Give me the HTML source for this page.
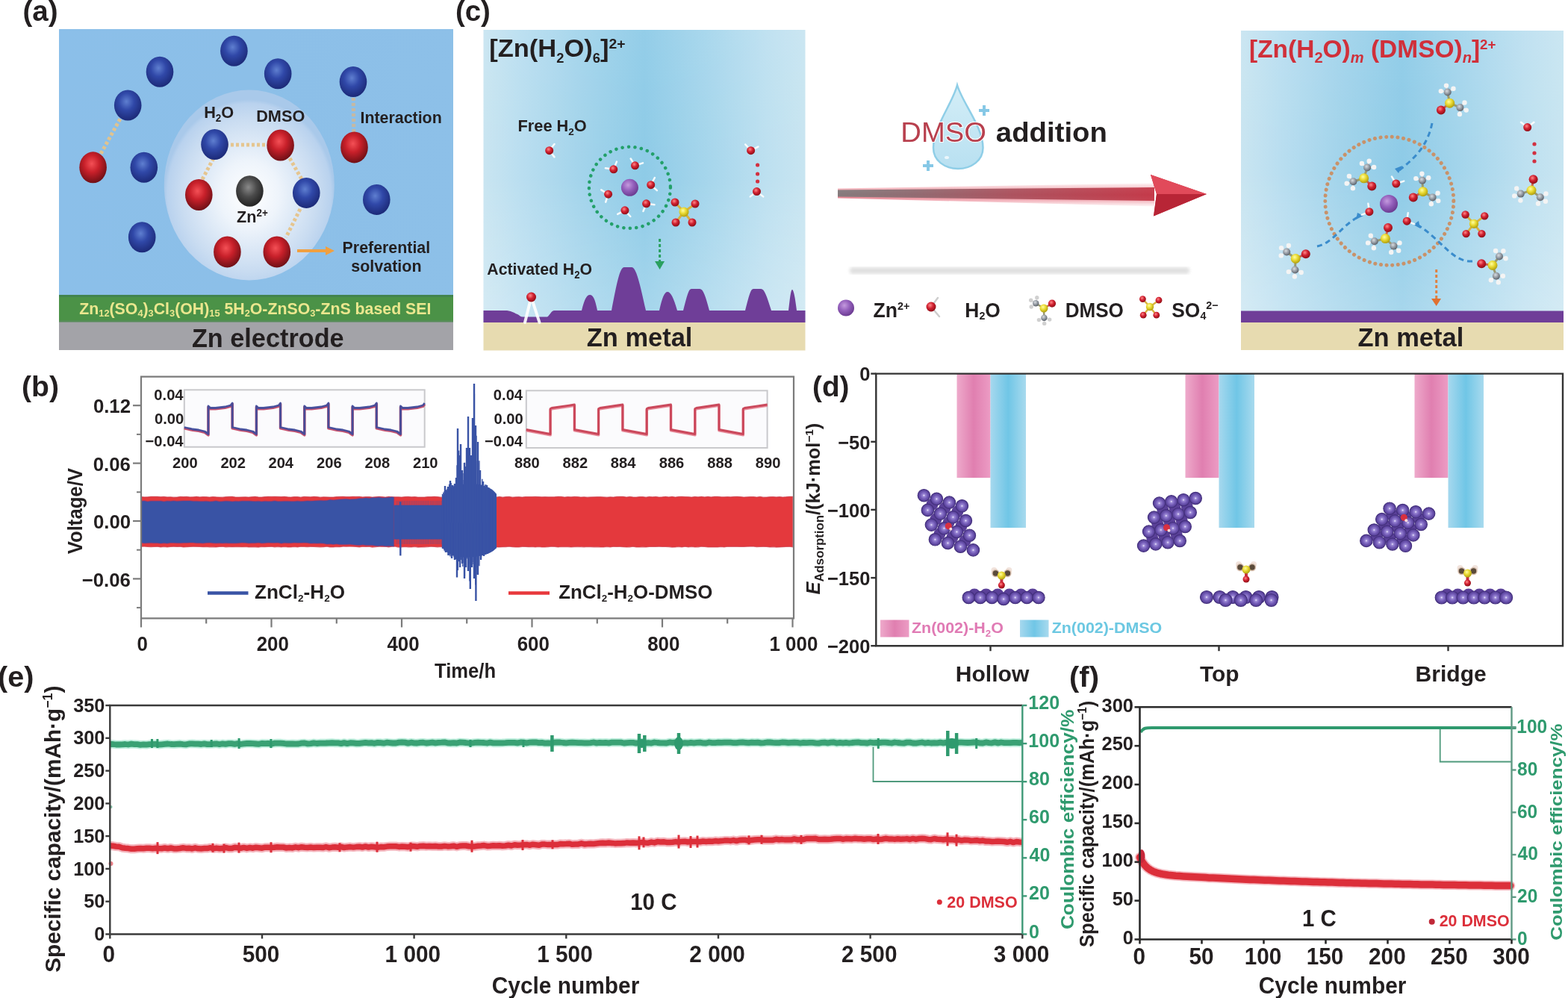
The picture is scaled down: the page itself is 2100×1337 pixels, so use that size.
<!DOCTYPE html>
<html><head><meta charset="utf-8"><title>Figure</title>
<style>html,body{margin:0;padding:0;background:#fff;} svg{display:block;} text{font-family:'Liberation Sans',Arial,sans-serif;font-weight:bold;}</style>
</head><body>
<svg width="2100" height="1337" viewBox="0 0 2100 1337">
<rect width="2100" height="1337" fill="#ffffff"/>

<defs>
 <radialGradient id="gBlue" cx="45%" cy="38%" r="62%">
  <stop offset="0" stop-color="#5f7fd0"/><stop offset="0.45" stop-color="#3048a8"/><stop offset="1" stop-color="#1c2a78"/></radialGradient>
 <radialGradient id="gRed" cx="45%" cy="38%" r="62%">
  <stop offset="0" stop-color="#f45056"/><stop offset="0.45" stop-color="#c8202a"/><stop offset="1" stop-color="#701016"/></radialGradient>
 <radialGradient id="gBlack" cx="45%" cy="38%" r="62%">
  <stop offset="0" stop-color="#8a8a8a"/><stop offset="0.5" stop-color="#4a4a4a"/><stop offset="1" stop-color="#222"/></radialGradient>
 <radialGradient id="gGlow" cx="50%" cy="55%" r="50%">
  <stop offset="0" stop-color="#ffffff"/><stop offset="0.35" stop-color="#eef4fb"/><stop offset="0.8" stop-color="#c9dcf1"/><stop offset="0.96" stop-color="#b9d2ee"/><stop offset="1" stop-color="#a9c9ea"/></radialGradient>
 <linearGradient id="gA" x1="0" x2="1" y1="0" y2="0">
  <stop offset="0" stop-color="#8bbfe9"/><stop offset="0.5" stop-color="#8cbfe8"/><stop offset="1" stop-color="#8dc0e8"/></linearGradient>
 <linearGradient id="gC" x1="0" x2="1" y1="0" y2="0">
  <stop offset="0" stop-color="#c9e5f1"/><stop offset="0.12" stop-color="#b9def0"/><stop offset="0.3" stop-color="#a3d4eb"/><stop offset="0.5" stop-color="#8ecbe7"/><stop offset="0.7" stop-color="#a6d6ec"/><stop offset="0.88" stop-color="#bde0f0"/><stop offset="1" stop-color="#c8e5f1"/></linearGradient>
 <linearGradient id="gCv" x1="0" x2="0" y1="0" y2="1">
  <stop offset="0" stop-color="#ffffff" stop-opacity="0.05"/><stop offset="0.5" stop-color="#ffffff" stop-opacity="0.0"/><stop offset="1" stop-color="#ffffff" stop-opacity="0.22"/></linearGradient>
 <radialGradient id="gPur" cx="40%" cy="35%" r="65%">
  <stop offset="0" stop-color="#c49ade"/><stop offset="0.5" stop-color="#9460bc"/><stop offset="1" stop-color="#6c3c92"/></radialGradient>
 <radialGradient id="gZn" cx="50%" cy="50%" r="55%">
  <stop offset="0" stop-color="#f4f0ff"/><stop offset="0.18" stop-color="#9b88d6"/><stop offset="0.55" stop-color="#7058b4"/><stop offset="1" stop-color="#4a3488"/></radialGradient>
 <radialGradient id="gOr" cx="40%" cy="35%" r="65%">
  <stop offset="0" stop-color="#ff8888"/><stop offset="0.5" stop-color="#d02030"/><stop offset="1" stop-color="#901018"/></radialGradient>
 <radialGradient id="gS" cx="40%" cy="35%" r="65%">
  <stop offset="0" stop-color="#ffffa0"/><stop offset="0.5" stop-color="#e8d830"/><stop offset="1" stop-color="#b0a010"/></radialGradient>
 <radialGradient id="gC6" cx="40%" cy="35%" r="65%">
  <stop offset="0" stop-color="#d8dce0"/><stop offset="0.5" stop-color="#9aa0a8"/><stop offset="1" stop-color="#5c636c"/></radialGradient>
 <linearGradient id="gPink" x1="0" x2="1">
  <stop offset="0" stop-color="#eeaacb"/><stop offset="0.5" stop-color="#e07fb0"/><stop offset="1" stop-color="#ec9cc4"/></linearGradient>
 <linearGradient id="gCyan" x1="0" x2="1">
  <stop offset="0" stop-color="#a6d8ee"/><stop offset="0.5" stop-color="#70c6e6"/><stop offset="1" stop-color="#a8daee"/></linearGradient>
 <linearGradient id="gArrow" x1="0" x2="1">
  <stop offset="0" stop-color="#7c7c7c"/><stop offset="0.25" stop-color="#8a6a70"/><stop offset="0.55" stop-color="#a8505c"/><stop offset="1" stop-color="#c23444"/></linearGradient>
 <linearGradient id="gShaftV" x1="0" x2="0" y1="0" y2="1">
  <stop offset="0" stop-color="#f6c4ca" stop-opacity="0.2"/><stop offset="0.3" stop-color="#f0a6b0"/><stop offset="0.5" stop-color="#d86a78"/><stop offset="0.7" stop-color="#f0a6b0"/><stop offset="1" stop-color="#f6c4ca" stop-opacity="0.2"/></linearGradient>
 <linearGradient id="gArrowV" x1="0" x2="0" y1="0" y2="1">
  <stop offset="0" stop-color="#ffffff" stop-opacity="0.0"/><stop offset="0.35" stop-color="#ffffff" stop-opacity="0.35"/><stop offset="1" stop-color="#ffffff" stop-opacity="0"/></linearGradient>
 <linearGradient id="gDrop" x1="0" x2="0" y1="0" y2="1">
  <stop offset="0" stop-color="#d4eef7"/><stop offset="1" stop-color="#b8e0f1"/></linearGradient>
 <filter id="blur2"><feGaussianBlur stdDeviation="2"/></filter>
 <filter id="blur1"><feGaussianBlur stdDeviation="0.8"/></filter>
 <filter id="blur4"><feGaussianBlur stdDeviation="4"/></filter>
</defs>

<g id="pa">
<rect x="79" y="39" width="528" height="357" fill="url(#gA)"/>
<ellipse cx="333.8" cy="248" rx="114" ry="127.5" fill="url(#gGlow)"/>
<line x1="171" y1="141" x2="125" y2="224" stroke="#e6c48a" stroke-width="5" stroke-dasharray="4 3" opacity="0.95"/>
<line x1="473" y1="110" x2="474" y2="197" stroke="#c9b9a0" stroke-width="5" stroke-dasharray="4 3" opacity="0.95"/>
<line x1="288" y1="194" x2="376" y2="194" stroke="#e6c48a" stroke-width="5" stroke-dasharray="4 3" opacity="0.95"/>
<line x1="286" y1="212" x2="270" y2="242" stroke="#e6c48a" stroke-width="5" stroke-dasharray="4 3" opacity="0.95"/>
<line x1="388" y1="212" x2="404" y2="240" stroke="#e6c48a" stroke-width="5" stroke-dasharray="4 3" opacity="0.95"/>
<line x1="402" y1="280" x2="383" y2="318" stroke="#e6c48a" stroke-width="5" stroke-dasharray="4 3" opacity="0.95"/>
<line x1="398" y1="336" x2="438" y2="336" stroke="#f0a040" stroke-width="4"/>
<path d="M436 330 L448 336 L436 342 Z" fill="#f0a040"/>
<ellipse cx="313.4" cy="68.2" rx="18.3" ry="20.5" fill="url(#gBlue)"/>
<ellipse cx="214" cy="96.2" rx="18.3" ry="20.5" fill="url(#gBlue)"/>
<ellipse cx="372.2" cy="98.7" rx="18.3" ry="20.5" fill="url(#gBlue)"/>
<ellipse cx="473" cy="109.5" rx="18.3" ry="20.5" fill="url(#gBlue)"/>
<ellipse cx="171.2" cy="141" rx="18.3" ry="20.5" fill="url(#gBlue)"/>
<ellipse cx="287.5" cy="193.5" rx="18.3" ry="20.5" fill="url(#gBlue)"/>
<ellipse cx="192.8" cy="224.3" rx="18.3" ry="20.5" fill="url(#gBlue)"/>
<ellipse cx="410.3" cy="258.4" rx="18.3" ry="20.5" fill="url(#gBlue)"/>
<ellipse cx="504.3" cy="267.4" rx="18.3" ry="20.5" fill="url(#gBlue)"/>
<ellipse cx="190.2" cy="317.7" rx="18.3" ry="20.5" fill="url(#gBlue)"/>
<ellipse cx="124.6" cy="224.3" rx="18.3" ry="21" fill="url(#gRed)"/>
<ellipse cx="375.6" cy="194.5" rx="18.3" ry="21" fill="url(#gRed)"/>
<ellipse cx="474.5" cy="197.4" rx="18.3" ry="21" fill="url(#gRed)"/>
<ellipse cx="266.3" cy="261" rx="18.3" ry="21" fill="url(#gRed)"/>
<ellipse cx="304.4" cy="337.4" rx="18.3" ry="21" fill="url(#gRed)"/>
<ellipse cx="370.8" cy="337.4" rx="18.3" ry="21" fill="url(#gRed)"/>
<ellipse cx="334.4" cy="256" rx="18.3" ry="20.8" fill="url(#gBlack)"/>
<text x="273.15" y="158.00" textLength="40.06" lengthAdjust="spacingAndGlyphs" fill="#231f20"><tspan font-size="22.3">H</tspan><tspan font-size="13.83" dy="4.91">2</tspan><tspan font-size="22.3" dy="-4.91">O</tspan></text>
<text x="343.15" y="163.30" textLength="65.17" lengthAdjust="spacingAndGlyphs" fill="#231f20"><tspan font-size="22.3">DMSO</tspan></text>
<text x="482.47" y="164.60" textLength="109.26" lengthAdjust="spacingAndGlyphs" fill="#231f20"><tspan font-size="22.3">Interaction</tspan></text>
<text x="317.06" y="298.00" textLength="41.69" lengthAdjust="spacingAndGlyphs" fill="#231f20"><tspan font-size="22.3">Zn</tspan><tspan font-size="13.83" dy="-8.03">2+</tspan></text>
<text x="458.57" y="338.70" textLength="117.64" lengthAdjust="spacingAndGlyphs" fill="#231f20"><tspan font-size="22.3">Preferential</tspan></text>
<text x="470.24" y="364.30" textLength="94.39" lengthAdjust="spacingAndGlyphs" fill="#231f20"><tspan font-size="22.3">solvation</tspan></text>
<rect x="79" y="395" width="528" height="37" fill="#4b9247"/>
<rect x="79" y="395" width="528" height="3" fill="#3f7f52" opacity="0.7"/>
<rect x="79" y="431" width="528" height="38" fill="#a3a3a8"/>
<rect x="79" y="429" width="528" height="3" fill="#5e8a62" opacity="0.6"/>
<text x="106.27" y="421.10" textLength="471.16" lengthAdjust="spacingAndGlyphs" fill="#ebe78e"><tspan font-size="21.5">Zn</tspan><tspan font-size="12.9" dy="3.01">12</tspan><tspan font-size="21.5" dy="-3.01">(SO</tspan><tspan font-size="12.9" dy="3.01">4</tspan><tspan font-size="21.5" dy="-3.01">)</tspan><tspan font-size="12.9" dy="3.01">3</tspan><tspan font-size="21.5" dy="-3.01">Cl</tspan><tspan font-size="12.9" dy="3.01">3</tspan><tspan font-size="21.5" dy="-3.01">(OH)</tspan><tspan font-size="12.9" dy="3.01">15</tspan><tspan font-size="21.5" dy="-3.01"> 5H</tspan><tspan font-size="12.9" dy="3.01">2</tspan><tspan font-size="21.5" dy="-3.01">O-ZnSO</tspan><tspan font-size="12.9" dy="3.01">3</tspan><tspan font-size="21.5" dy="-3.01">-ZnS based SEI</tspan></text>
<text x="256.88" y="464.60" textLength="203.79" lengthAdjust="spacingAndGlyphs" fill="#231f20"><tspan font-size="35.8">Zn electrode</tspan></text>
</g>
<g id="pc">
<rect x="647.5" y="40" width="431" height="392" fill="url(#gC)"/>
<rect x="647.5" y="40" width="431" height="392" fill="url(#gCv)"/>
<text x="655.16" y="76.40" textLength="182.32" lengthAdjust="spacingAndGlyphs" fill="#231f20"><tspan font-size="34">[Zn(H</tspan><tspan font-size="18.02" dy="7.14">2</tspan><tspan font-size="34" dy="-7.14">O)</tspan><tspan font-size="18.02" dy="7.14">6</tspan><tspan font-size="34" dy="-7.14">]</tspan><tspan font-size="19.04" dy="-11.22">2+</tspan></text>
<text x="693.54" y="176.20" textLength="92.27" lengthAdjust="spacingAndGlyphs" fill="#231f20"><tspan font-size="22">Free H</tspan><tspan font-size="13.64" dy="4.84">2</tspan><tspan font-size="22" dy="-4.84">O</tspan></text>
<text x="652.37" y="367.70" textLength="140.62" lengthAdjust="spacingAndGlyphs" fill="#231f20"><tspan font-size="22.5">Activated H</tspan><tspan font-size="13.95" dy="4.95">2</tspan><tspan font-size="22.5" dy="-4.95">O</tspan></text>
<line x1="735.7" y1="201.7" x2="742.4722762285822" y2="193.03188171032605" stroke="#ffffff" stroke-width="2.5" stroke-linecap="round" opacity="0.9"/><line x1="735.7" y1="201.7" x2="742.4722762285822" y2="210.36811828967393" stroke="#ffffff" stroke-width="2.5" stroke-linecap="round" opacity="0.9"/><circle cx="735.7" cy="201.7" r="5.5" fill="url(#gOr)"/>
<circle cx="843.4" cy="251.3" r="54.5" fill="none" stroke="#23a06a" stroke-width="4.5" stroke-dasharray="0.1 8.4" stroke-linecap="round"/>
<circle cx="843.4" cy="251.3" r="11.5" fill="url(#gPur)"/>
<line x1="821.8" y1="226.8" x2="810.9070512438427" y2="225.26909588943928" stroke="#ffffff" stroke-width="2.5" stroke-linecap="round" opacity="0.9"/><line x1="821.8" y1="226.8" x2="825.920672527575" y2="216.60097759976534" stroke="#ffffff" stroke-width="2.5" stroke-linecap="round" opacity="0.9"/><circle cx="821.8" cy="226.8" r="5.5" fill="url(#gOr)"/>
<line x1="850.5" y1="221.8" x2="844.6708880934348" y2="212.47147094227932" stroke="#ffffff" stroke-width="2.5" stroke-linecap="round" opacity="0.9"/><line x1="850.5" y1="221.8" x2="860.9616216792467" y2="218.4008130618756" stroke="#ffffff" stroke-width="2.5" stroke-linecap="round" opacity="0.9"/><circle cx="850.5" cy="221.8" r="5.5" fill="url(#gOr)"/>
<line x1="871.7" y1="247.7" x2="876.8641871906449" y2="237.9875764785518" stroke="#ffffff" stroke-width="2.5" stroke-linecap="round" opacity="0.9"/><line x1="871.7" y1="247.7" x2="879.8745930802514" y2="255.06043666994742" stroke="#ffffff" stroke-width="2.5" stroke-linecap="round" opacity="0.9"/><circle cx="871.7" cy="247.7" r="5.5" fill="url(#gOr)"/>
<line x1="814.6" y1="260.2" x2="811.2008130618756" y2="270.66162167924665" stroke="#ffffff" stroke-width="2.5" stroke-linecap="round" opacity="0.9"/><line x1="814.6" y1="260.2" x2="805.2714709422794" y2="254.37088809343473" stroke="#ffffff" stroke-width="2.5" stroke-linecap="round" opacity="0.9"/><circle cx="814.6" cy="260.2" r="5.5" fill="url(#gOr)"/>
<line x1="865.6" y1="272.8" x2="876.4929487561573" y2="274.3309041105607" stroke="#ffffff" stroke-width="2.5" stroke-linecap="round" opacity="0.9"/><line x1="865.6" y1="272.8" x2="861.479327472425" y2="282.99902240023465" stroke="#ffffff" stroke-width="2.5" stroke-linecap="round" opacity="0.9"/><circle cx="865.6" cy="272.8" r="5.5" fill="url(#gOr)"/>
<line x1="836.9" y1="281.8" x2="844.2604366699475" y2="289.97459308025134" stroke="#ffffff" stroke-width="2.5" stroke-linecap="round" opacity="0.9"/><line x1="836.9" y1="281.8" x2="827.1875764785518" y2="286.9641871906448" stroke="#ffffff" stroke-width="2.5" stroke-linecap="round" opacity="0.9"/><circle cx="836.9" cy="281.8" r="5.5" fill="url(#gOr)"/>
<line x1="916" y1="284" x2="904.0" y2="271.0" stroke="#d8b040" stroke-width="3.0"/><line x1="916" y1="284" x2="931.0" y2="273.0" stroke="#d8b040" stroke-width="3.0"/><line x1="916" y1="284" x2="905.0" y2="298.0" stroke="#d8b040" stroke-width="3.0"/><line x1="916" y1="284" x2="927.0" y2="298.0" stroke="#d8b040" stroke-width="3.0"/><circle cx="916" cy="284" r="6.5" fill="url(#gS)"/><circle cx="904.0" cy="271.0" r="5.5" fill="url(#gOr)"/><circle cx="931.0" cy="273.0" r="5.5" fill="url(#gOr)"/><circle cx="905.0" cy="298.0" r="5.5" fill="url(#gOr)"/><circle cx="927.0" cy="298.0" r="5.5" fill="url(#gOr)"/>
<line x1="1005.6" y1="201.7" x2="998.2395633300525" y2="193.52540691974866" stroke="#ffffff" stroke-width="2.5" stroke-linecap="round" opacity="0.9"/><line x1="1005.6" y1="201.7" x2="1015.3124235214482" y2="196.53581280935518" stroke="#ffffff" stroke-width="2.5" stroke-linecap="round" opacity="0.9"/><circle cx="1005.6" cy="201.7" r="5.5" fill="url(#gOr)"/>
<circle cx="1014.6" cy="221" r="2.6" fill="#d23040"/>
<circle cx="1014.6" cy="233" r="2.6" fill="#d23040"/>
<circle cx="1014.6" cy="243" r="2.6" fill="#d23040"/>
<line x1="1013.5" y1="256.6" x2="1022.1681182896739" y2="263.3722762285823" stroke="#ffffff" stroke-width="2.5" stroke-linecap="round" opacity="0.9"/><line x1="1013.5" y1="256.6" x2="1004.831881710326" y2="263.3722762285823" stroke="#ffffff" stroke-width="2.5" stroke-linecap="round" opacity="0.9"/><circle cx="1013.5" cy="256.6" r="5.5" fill="url(#gOr)"/>
<line x1="883.6" y1="320" x2="883.6" y2="352" stroke="#2aa060" stroke-width="3" stroke-dasharray="4 3"/>
<path d="M877 350 L890 350 L883.6 361 Z" fill="#2aa060"/>
<path d="M647.5 416 L679 416 C686 417 690 420 694 421.5 C696 423 697 424.5 700 424.5 L733 424.5 C736 423 738 416.5 742 416 L779 416 C783 400 786 395 790 395 C794 395 797 400 800 416 L819 416 C826 380 830 358 836 358 L846 358 C852 358 857 380 865 416 L883 416 C887 398 890 391 894 391 C898 391 902 398 907 416 L915 416 C920 397 922 387 926 387 L937 387 C942 387 945 397 950 416 L998 416 C1003 397 1005 387 1009 387 L1019 387 C1024 387 1027 397 1033 416 L1056 416 C1058 400 1059 388 1061 388 C1063 388 1065 400 1067 416 L1078.5 416 L1078.5 432 L647.5 432 Z" fill="#6f3e98"/>
<rect x="647.5" y="432" width="431" height="37.5" fill="#e7dbb0"/>
<line x1="711.5" y1="398" x2="703" y2="432" stroke="#ffffff" stroke-width="4" stroke-linecap="round" opacity="0.9"/><line x1="711.5" y1="398" x2="722.5" y2="432" stroke="#ffffff" stroke-width="4" stroke-linecap="round" opacity="0.9"/>
<circle cx="711.5" cy="398" r="6.5" fill="url(#gOr)"/>
<text x="785.77" y="464.40" textLength="141.67" lengthAdjust="spacingAndGlyphs" fill="#231f20"><tspan font-size="34.9">Zn metal</tspan></text>
<path d="M1282 114 C1289 138 1316.5 170 1316.5 198 C1316.5 215 1301 226 1283 226 C1265 226 1250 215 1250 198 C1250 170 1276 138 1282 114 Z" fill="url(#gDrop)" stroke="#8fcee7" stroke-width="2.5"/>
<path d="M1311 148 h14 M1318 141 v14 M1236 222 h14 M1243 215 v14" stroke="#86c8e6" stroke-width="4"/>
<ellipse cx="1268" cy="211" rx="3" ry="2" fill="#ffffff" opacity="0.7"/>
<text x="1206.37" y="190.20" textLength="114.46" lengthAdjust="spacingAndGlyphs" fill="#b8404e" style="paint-order:stroke;stroke:#ffffff;stroke-width:2;font-weight:normal"><tspan font-size="36">DMSO</tspan></text>
<text x="1333.88" y="190.20" textLength="149.00" lengthAdjust="spacingAndGlyphs" fill="#231f20"><tspan font-size="37">addition</tspan></text>
<rect x="1138" y="358" width="455" height="9" rx="4" fill="#d8d8d8" filter="url(#blur2)" opacity="0.8"/>
<path d="M1122 252.5 L1546 245.5 L1546 276.5 L1122 265.5 Z" fill="url(#gShaftV)"/>
<path d="M1122 254.5 L1546 251 L1546 269 L1122 263.5 Z" fill="url(#gArrow)" opacity="0.9"/>
<path d="M1541 234 L1616 260 L1545 289.5 L1549 260 Z" fill="#cf3042"/>
<path d="M1541 234 L1616 260 L1549 260 Z" fill="#e14a5a"/>
<path d="M1549 260 L1616 260 L1545 289.5 Z" fill="#b82536"/>
<circle cx="1133" cy="412.5" r="11" fill="url(#gPur)"/>
<text x="1169.51" y="424.60" textLength="48.87" lengthAdjust="spacingAndGlyphs" fill="#231f20"><tspan font-size="26.9">Zn</tspan><tspan font-size="14.53" dy="-9.15">2+</tspan></text>
<line x1="1247" y1="411" x2="1256" y2="399" stroke="#c8c8c8" stroke-width="2.5" stroke-linecap="round" opacity="0.9"/><line x1="1247" y1="411" x2="1258" y2="424" stroke="#c8c8c8" stroke-width="2.5" stroke-linecap="round" opacity="0.9"/><circle cx="1247" cy="411" r="6.5" fill="url(#gOr)"/>
<text x="1292.34" y="424.60" textLength="47.47" lengthAdjust="spacingAndGlyphs" fill="#231f20"><tspan font-size="26.9">H</tspan><tspan font-size="14.53" dy="3.77">2</tspan><tspan font-size="26.9" dy="-3.77">O</tspan></text>
<line x1="1398.0" y1="413.0" x2="1398.4" y2="425.7" stroke="#9a9a70" stroke-width="2.5"/><line x1="1398.4" y1="425.7" x2="1405.7" y2="428.1" stroke="#e8e8e8" stroke-width="1.7"/><circle cx="1405.7" cy="428.1" r="2.7" fill="#d0d0d0"/><line x1="1398.4" y1="425.7" x2="1398.7" y2="433.4" stroke="#e8e8e8" stroke-width="1.7"/><circle cx="1398.7" cy="433.4" r="2.7" fill="#d0d0d0"/><line x1="1398.4" y1="425.7" x2="1391.4" y2="428.6" stroke="#e8e8e8" stroke-width="1.7"/><circle cx="1391.4" cy="428.6" r="2.7" fill="#d0d0d0"/><circle cx="1398.4" cy="425.7" r="4.2" fill="url(#gC6)"/><line x1="1398.0" y1="413.0" x2="1387.2" y2="406.2" stroke="#9a9a70" stroke-width="2.5"/><line x1="1387.2" y1="406.2" x2="1381.2" y2="411.0" stroke="#e8e8e8" stroke-width="1.7"/><circle cx="1381.2" cy="411.0" r="2.7" fill="#d0d0d0"/><line x1="1387.2" y1="406.2" x2="1380.7" y2="402.2" stroke="#e8e8e8" stroke-width="1.7"/><circle cx="1380.7" cy="402.2" r="2.7" fill="#d0d0d0"/><line x1="1387.2" y1="406.2" x2="1388.8" y2="398.8" stroke="#e8e8e8" stroke-width="1.7"/><circle cx="1388.8" cy="398.8" r="2.7" fill="#d0d0d0"/><circle cx="1387.2" cy="406.2" r="4.2" fill="url(#gC6)"/><line x1="1398.0" y1="413.0" x2="1409.0" y2="406.6" stroke="#c86050" stroke-width="2.5"/><circle cx="1398" cy="413" r="5.5" fill="url(#gS)"/><circle cx="1409.0" cy="406.6" r="5.1" fill="url(#gOr)"/>
<text x="1426.66" y="424.60" textLength="78.24" lengthAdjust="spacingAndGlyphs" fill="#231f20"><tspan font-size="26.9">DMSO</tspan></text>
<line x1="1540" y1="411" x2="1530.4" y2="400.6" stroke="#d8b040" stroke-width="2.4000000000000004"/><line x1="1540" y1="411" x2="1552.0" y2="402.2" stroke="#d8b040" stroke-width="2.4000000000000004"/><line x1="1540" y1="411" x2="1531.2" y2="422.2" stroke="#d8b040" stroke-width="2.4000000000000004"/><line x1="1540" y1="411" x2="1548.8" y2="422.2" stroke="#d8b040" stroke-width="2.4000000000000004"/><circle cx="1540" cy="411" r="5.2" fill="url(#gS)"/><circle cx="1530.4" cy="400.6" r="4.4" fill="url(#gOr)"/><circle cx="1552.0" cy="402.2" r="4.4" fill="url(#gOr)"/><circle cx="1531.2" cy="422.2" r="4.4" fill="url(#gOr)"/><circle cx="1548.8" cy="422.2" r="4.4" fill="url(#gOr)"/>
<text x="1569.24" y="424.60" textLength="62.35" lengthAdjust="spacingAndGlyphs" fill="#231f20"><tspan font-size="26.9">SO</tspan><tspan font-size="14.53" dy="3.77">4</tspan><tspan font-size="14.53" dy="-13.99">2−</tspan></text>
<rect x="1662" y="41" width="432" height="376" fill="url(#gC)"/>
<rect x="1662" y="41" width="432" height="376" fill="url(#gCv)"/>
<text x="1673.02" y="76.80" textLength="330.44" lengthAdjust="spacingAndGlyphs" fill="#d0303a"><tspan font-size="34">[Zn(H</tspan><tspan font-size="20.4" dy="7.14">2</tspan><tspan font-size="34" dy="-7.14">O)</tspan><tspan font-size="20.4" dy="7.14" font-style="italic">m</tspan><tspan font-size="34" dy="-7.14"> (DMSO)</tspan><tspan font-size="20.4" dy="7.14" font-style="italic">n</tspan><tspan font-size="34" dy="-7.14">]</tspan><tspan font-size="19.04" dy="-11.22">2+</tspan></text>
<circle cx="1860.8" cy="269.3" r="86" fill="none" stroke="#c8926a" stroke-width="5" stroke-dasharray="0.1 7.6" stroke-linecap="round"/>
<path d="M1918 165 C1912 195 1895 212 1874 228" fill="none" stroke="#3a8ccc" stroke-width="3" stroke-dasharray="7 5"/>
<path d="M1764 330 C1785 326 1797 302 1820 290" fill="none" stroke="#3a8ccc" stroke-width="3" stroke-dasharray="7 5"/>
<path d="M1972 350 C1945 352 1930 320 1898 301" fill="none" stroke="#3a8ccc" stroke-width="3" stroke-dasharray="7 5"/>
<path d="M1868 226 L1878 222 L1873 232 Z" fill="#3a8ccc"/><path d="M1818 285 L1826 289 L1816 294 Z" fill="#3a8ccc"/><path d="M1900 296 L1893 301 L1902 306 Z" fill="#3a8ccc"/>
<circle cx="1860" cy="273" r="12" fill="url(#gPur)"/>
<line x1="1941.6" y1="138.2" x2="1938.7" y2="123.5" stroke="#9a9a70" stroke-width="3.0"/><line x1="1938.7" y1="123.5" x2="1929.8" y2="122.1" stroke="#e8e8e8" stroke-width="2.0"/><circle cx="1929.8" cy="122.1" r="3.2" fill="#f4f4f4"/><line x1="1938.7" y1="123.5" x2="1937.0" y2="114.6" stroke="#e8e8e8" stroke-width="2.0"/><circle cx="1937.0" cy="114.6" r="3.2" fill="#f4f4f4"/><line x1="1938.7" y1="123.5" x2="1946.5" y2="118.8" stroke="#e8e8e8" stroke-width="2.0"/><circle cx="1946.5" cy="118.8" r="3.2" fill="#f4f4f4"/><circle cx="1938.7" cy="123.5" r="5.0" fill="url(#gC6)"/><line x1="1941.6" y1="138.2" x2="1955.4" y2="144.1" stroke="#9a9a70" stroke-width="3.0"/><line x1="1955.4" y1="144.1" x2="1961.5" y2="137.5" stroke="#e8e8e8" stroke-width="2.0"/><circle cx="1961.5" cy="137.5" r="3.2" fill="#f4f4f4"/><line x1="1955.4" y1="144.1" x2="1963.7" y2="147.6" stroke="#e8e8e8" stroke-width="2.0"/><circle cx="1963.7" cy="147.6" r="3.2" fill="#f4f4f4"/><line x1="1955.4" y1="144.1" x2="1954.9" y2="153.0" stroke="#e8e8e8" stroke-width="2.0"/><circle cx="1954.9" cy="153.0" r="3.2" fill="#f4f4f4"/><circle cx="1955.4" cy="144.1" r="5.0" fill="url(#gC6)"/><line x1="1941.6" y1="138.2" x2="1929.9" y2="147.6" stroke="#c86050" stroke-width="3.0"/><circle cx="1941.6" cy="138.2" r="6.5" fill="url(#gS)"/><circle cx="1929.9" cy="147.6" r="6.0" fill="url(#gOr)"/>
<line x1="1826.7" y1="238.8" x2="1812.4" y2="243.2" stroke="#9a9a70" stroke-width="3.0"/><line x1="1812.4" y1="243.2" x2="1811.9" y2="252.2" stroke="#e8e8e8" stroke-width="2.0"/><circle cx="1811.9" cy="252.2" r="3.2" fill="#f4f4f4"/><line x1="1812.4" y1="243.2" x2="1803.7" y2="245.8" stroke="#e8e8e8" stroke-width="2.0"/><circle cx="1803.7" cy="245.8" r="3.2" fill="#f4f4f4"/><line x1="1812.4" y1="243.2" x2="1806.9" y2="236.0" stroke="#e8e8e8" stroke-width="2.0"/><circle cx="1806.9" cy="236.0" r="3.2" fill="#f4f4f4"/><circle cx="1812.4" cy="243.2" r="5.0" fill="url(#gC6)"/><line x1="1826.7" y1="238.8" x2="1831.1" y2="224.5" stroke="#9a9a70" stroke-width="3.0"/><line x1="1831.1" y1="224.5" x2="1823.9" y2="219.0" stroke="#e8e8e8" stroke-width="2.0"/><circle cx="1823.9" cy="219.0" r="3.2" fill="#f4f4f4"/><line x1="1831.1" y1="224.5" x2="1833.7" y2="215.8" stroke="#e8e8e8" stroke-width="2.0"/><circle cx="1833.7" cy="215.8" r="3.2" fill="#f4f4f4"/><line x1="1831.1" y1="224.5" x2="1840.1" y2="224.0" stroke="#e8e8e8" stroke-width="2.0"/><circle cx="1840.1" cy="224.0" r="3.2" fill="#f4f4f4"/><circle cx="1831.1" cy="224.5" r="5.0" fill="url(#gC6)"/><line x1="1826.7" y1="238.8" x2="1837.3" y2="249.4" stroke="#c86050" stroke-width="3.0"/><circle cx="1826.7" cy="238.8" r="6.5" fill="url(#gS)"/><circle cx="1837.3" cy="249.4" r="6.0" fill="url(#gOr)"/>
<line x1="1905.7" y1="256.7" x2="1904.9" y2="241.7" stroke="#9a9a70" stroke-width="3.0"/><line x1="1904.9" y1="241.7" x2="1896.3" y2="239.1" stroke="#e8e8e8" stroke-width="2.0"/><circle cx="1896.3" cy="239.1" r="3.2" fill="#f4f4f4"/><line x1="1904.9" y1="241.7" x2="1904.4" y2="232.7" stroke="#e8e8e8" stroke-width="2.0"/><circle cx="1904.4" cy="232.7" r="3.2" fill="#f4f4f4"/><line x1="1904.9" y1="241.7" x2="1913.2" y2="238.2" stroke="#e8e8e8" stroke-width="2.0"/><circle cx="1913.2" cy="238.2" r="3.2" fill="#f4f4f4"/><circle cx="1904.9" cy="241.7" r="5.0" fill="url(#gC6)"/><line x1="1905.7" y1="256.7" x2="1918.6" y2="264.4" stroke="#9a9a70" stroke-width="3.0"/><line x1="1918.6" y1="264.4" x2="1925.6" y2="258.8" stroke="#e8e8e8" stroke-width="2.0"/><circle cx="1925.6" cy="258.8" r="3.2" fill="#f4f4f4"/><line x1="1918.6" y1="264.4" x2="1926.3" y2="269.1" stroke="#e8e8e8" stroke-width="2.0"/><circle cx="1926.3" cy="269.1" r="3.2" fill="#f4f4f4"/><line x1="1918.6" y1="264.4" x2="1916.8" y2="273.3" stroke="#e8e8e8" stroke-width="2.0"/><circle cx="1916.8" cy="273.3" r="3.2" fill="#f4f4f4"/><circle cx="1918.6" cy="264.4" r="5.0" fill="url(#gC6)"/><line x1="1905.7" y1="256.7" x2="1892.8" y2="264.4" stroke="#c86050" stroke-width="3.0"/><circle cx="1905.7" cy="256.7" r="6.5" fill="url(#gS)"/><circle cx="1892.8" cy="264.4" r="6.0" fill="url(#gOr)"/>
<line x1="1855.4" y1="319.6" x2="1866.5" y2="329.6" stroke="#9a9a70" stroke-width="3.0"/><line x1="1866.5" y1="329.6" x2="1874.5" y2="325.4" stroke="#e8e8e8" stroke-width="2.0"/><circle cx="1874.5" cy="325.4" r="3.2" fill="#f4f4f4"/><line x1="1866.5" y1="329.6" x2="1873.2" y2="335.7" stroke="#e8e8e8" stroke-width="2.0"/><circle cx="1873.2" cy="335.7" r="3.2" fill="#f4f4f4"/><line x1="1866.5" y1="329.6" x2="1863.2" y2="338.0" stroke="#e8e8e8" stroke-width="2.0"/><circle cx="1863.2" cy="338.0" r="3.2" fill="#f4f4f4"/><circle cx="1866.5" cy="329.6" r="5.0" fill="url(#gC6)"/><line x1="1855.4" y1="319.6" x2="1840.8" y2="323.2" stroke="#9a9a70" stroke-width="3.0"/><line x1="1840.8" y1="323.2" x2="1839.9" y2="332.2" stroke="#e8e8e8" stroke-width="2.0"/><circle cx="1839.9" cy="332.2" r="3.2" fill="#f4f4f4"/><line x1="1840.8" y1="323.2" x2="1832.1" y2="325.4" stroke="#e8e8e8" stroke-width="2.0"/><circle cx="1832.1" cy="325.4" r="3.2" fill="#f4f4f4"/><line x1="1840.8" y1="323.2" x2="1835.8" y2="315.8" stroke="#e8e8e8" stroke-width="2.0"/><circle cx="1835.8" cy="315.8" r="3.2" fill="#f4f4f4"/><circle cx="1840.8" cy="323.2" r="5.0" fill="url(#gC6)"/><line x1="1855.4" y1="319.6" x2="1859.0" y2="305.0" stroke="#c86050" stroke-width="3.0"/><circle cx="1855.4" cy="319.6" r="6.5" fill="url(#gS)"/><circle cx="1859.0" cy="305.0" r="6.0" fill="url(#gOr)"/>
<line x1="1735.2" y1="346.5" x2="1734.4" y2="361.5" stroke="#9a9a70" stroke-width="3.0"/><line x1="1734.4" y1="361.5" x2="1742.7" y2="365.0" stroke="#e8e8e8" stroke-width="2.0"/><circle cx="1742.7" cy="365.0" r="3.2" fill="#f4f4f4"/><line x1="1734.4" y1="361.5" x2="1733.9" y2="370.5" stroke="#e8e8e8" stroke-width="2.0"/><circle cx="1733.9" cy="370.5" r="3.2" fill="#f4f4f4"/><line x1="1734.4" y1="361.5" x2="1725.8" y2="364.1" stroke="#e8e8e8" stroke-width="2.0"/><circle cx="1725.8" cy="364.1" r="3.2" fill="#f4f4f4"/><circle cx="1734.4" cy="361.5" r="5.0" fill="url(#gC6)"/><line x1="1735.2" y1="346.5" x2="1723.2" y2="337.5" stroke="#9a9a70" stroke-width="3.0"/><line x1="1723.2" y1="337.5" x2="1715.7" y2="342.4" stroke="#e8e8e8" stroke-width="2.0"/><circle cx="1715.7" cy="342.4" r="3.2" fill="#f4f4f4"/><line x1="1723.2" y1="337.5" x2="1716.0" y2="332.1" stroke="#e8e8e8" stroke-width="2.0"/><circle cx="1716.0" cy="332.1" r="3.2" fill="#f4f4f4"/><line x1="1723.2" y1="337.5" x2="1725.9" y2="328.9" stroke="#e8e8e8" stroke-width="2.0"/><circle cx="1725.9" cy="328.9" r="3.2" fill="#f4f4f4"/><circle cx="1723.2" cy="337.5" r="5.0" fill="url(#gC6)"/><line x1="1735.2" y1="346.5" x2="1748.8" y2="340.2" stroke="#c86050" stroke-width="3.0"/><circle cx="1735.2" cy="346.5" r="6.5" fill="url(#gS)"/><circle cx="1748.8" cy="340.2" r="6.0" fill="url(#gOr)"/>
<line x1="1999.0" y1="355.5" x2="2008.0" y2="343.5" stroke="#9a9a70" stroke-width="3.0"/><line x1="2008.0" y1="343.5" x2="2003.1" y2="336.0" stroke="#e8e8e8" stroke-width="2.0"/><circle cx="2003.1" cy="336.0" r="3.2" fill="#f4f4f4"/><line x1="2008.0" y1="343.5" x2="2013.4" y2="336.3" stroke="#e8e8e8" stroke-width="2.0"/><circle cx="2013.4" cy="336.3" r="3.2" fill="#f4f4f4"/><line x1="2008.0" y1="343.5" x2="2016.6" y2="346.2" stroke="#e8e8e8" stroke-width="2.0"/><circle cx="2016.6" cy="346.2" r="3.2" fill="#f4f4f4"/><circle cx="2008.0" cy="343.5" r="5.0" fill="url(#gC6)"/><line x1="1999.0" y1="355.5" x2="2003.9" y2="369.7" stroke="#9a9a70" stroke-width="3.0"/><line x1="2003.9" y1="369.7" x2="2012.9" y2="369.8" stroke="#e8e8e8" stroke-width="2.0"/><circle cx="2012.9" cy="369.8" r="3.2" fill="#f4f4f4"/><line x1="2003.9" y1="369.7" x2="2006.8" y2="378.2" stroke="#e8e8e8" stroke-width="2.0"/><circle cx="2006.8" cy="378.2" r="3.2" fill="#f4f4f4"/><line x1="2003.9" y1="369.7" x2="1996.9" y2="375.3" stroke="#e8e8e8" stroke-width="2.0"/><circle cx="1996.9" cy="375.3" r="3.2" fill="#f4f4f4"/><circle cx="2003.9" cy="369.7" r="5.0" fill="url(#gC6)"/><line x1="1999.0" y1="355.5" x2="1984.2" y2="353.2" stroke="#c86050" stroke-width="3.0"/><circle cx="1999" cy="355.5" r="6.5" fill="url(#gS)"/><circle cx="1984.2" cy="353.2" r="6.0" fill="url(#gOr)"/>
<line x1="2051.0" y1="255.0" x2="2062.8" y2="264.2" stroke="#9a9a70" stroke-width="3.0"/><line x1="2062.8" y1="264.2" x2="2070.5" y2="259.5" stroke="#e8e8e8" stroke-width="2.0"/><circle cx="2070.5" cy="259.5" r="3.2" fill="#f4f4f4"/><line x1="2062.8" y1="264.2" x2="2069.9" y2="269.8" stroke="#e8e8e8" stroke-width="2.0"/><circle cx="2069.9" cy="269.8" r="3.2" fill="#f4f4f4"/><line x1="2062.8" y1="264.2" x2="2060.0" y2="272.8" stroke="#e8e8e8" stroke-width="2.0"/><circle cx="2060.0" cy="272.8" r="3.2" fill="#f4f4f4"/><circle cx="2062.8" cy="264.2" r="5.0" fill="url(#gC6)"/><line x1="2051.0" y1="255.0" x2="2036.7" y2="259.6" stroke="#9a9a70" stroke-width="3.0"/><line x1="2036.7" y1="259.6" x2="2036.4" y2="268.6" stroke="#e8e8e8" stroke-width="2.0"/><circle cx="2036.4" cy="268.6" r="3.2" fill="#f4f4f4"/><line x1="2036.7" y1="259.6" x2="2028.2" y2="262.4" stroke="#e8e8e8" stroke-width="2.0"/><circle cx="2028.2" cy="262.4" r="3.2" fill="#f4f4f4"/><line x1="2036.7" y1="259.6" x2="2031.2" y2="252.5" stroke="#e8e8e8" stroke-width="2.0"/><circle cx="2031.2" cy="252.5" r="3.2" fill="#f4f4f4"/><circle cx="2036.7" cy="259.6" r="5.0" fill="url(#gC6)"/><line x1="2051.0" y1="255.0" x2="2053.6" y2="240.2" stroke="#c86050" stroke-width="3.0"/><circle cx="2051" cy="255" r="6.5" fill="url(#gS)"/><circle cx="2053.6" cy="240.2" r="6.0" fill="url(#gOr)"/>
<line x1="1869.8" y1="246" x2="1863.9708880934347" y2="236.6714709422793" stroke="#ffffff" stroke-width="2.5" stroke-linecap="round" opacity="0.9"/><line x1="1869.8" y1="246" x2="1880.2616216792467" y2="242.60081306187558" stroke="#ffffff" stroke-width="2.5" stroke-linecap="round" opacity="0.9"/><circle cx="1869.8" cy="246" r="5.5" fill="url(#gOr)"/>
<line x1="1833.9" y1="283.7" x2="1823.7009775997653" y2="287.820672527575" stroke="#ffffff" stroke-width="2.5" stroke-linecap="round" opacity="0.9"/><line x1="1833.9" y1="283.7" x2="1832.3690958894394" y2="272.8070512438427" stroke="#ffffff" stroke-width="2.5" stroke-linecap="round" opacity="0.9"/><circle cx="1833.9" cy="283.7" r="5.5" fill="url(#gOr)"/>
<line x1="1884.2" y1="296.2" x2="1885.7309041105607" y2="285.3070512438427" stroke="#ffffff" stroke-width="2.5" stroke-linecap="round" opacity="0.9"/><line x1="1884.2" y1="296.2" x2="1894.3990224002348" y2="300.320672527575" stroke="#ffffff" stroke-width="2.5" stroke-linecap="round" opacity="0.9"/><circle cx="1884.2" cy="296.2" r="5.5" fill="url(#gOr)"/>
<line x1="2045.7" y1="170.6" x2="2037.0318817103262" y2="163.82772377141777" stroke="#ffffff" stroke-width="2.5" stroke-linecap="round" opacity="0.9"/><line x1="2045.7" y1="170.6" x2="2054.368118289674" y2="163.82772377141777" stroke="#ffffff" stroke-width="2.5" stroke-linecap="round" opacity="0.9"/><circle cx="2045.7" cy="170.6" r="5.5" fill="url(#gOr)"/>
<circle cx="2055" cy="193" r="2.6" fill="#d23040"/>
<circle cx="2055" cy="205" r="2.6" fill="#d23040"/>
<circle cx="2055" cy="216" r="2.6" fill="#d23040"/>
<line x1="1974" y1="299.8" x2="1962.6" y2="287.45" stroke="#d8b040" stroke-width="2.8499999999999996"/><line x1="1974" y1="299.8" x2="1988.25" y2="289.35" stroke="#d8b040" stroke-width="2.8499999999999996"/><line x1="1974" y1="299.8" x2="1963.55" y2="313.1" stroke="#d8b040" stroke-width="2.8499999999999996"/><line x1="1974" y1="299.8" x2="1984.45" y2="313.1" stroke="#d8b040" stroke-width="2.8499999999999996"/><circle cx="1974" cy="299.8" r="6.175" fill="url(#gS)"/><circle cx="1962.6" cy="287.45" r="5.225" fill="url(#gOr)"/><circle cx="1988.25" cy="289.35" r="5.225" fill="url(#gOr)"/><circle cx="1963.55" cy="313.1" r="5.225" fill="url(#gOr)"/><circle cx="1984.45" cy="313.1" r="5.225" fill="url(#gOr)"/>
<line x1="1923.7" y1="361" x2="1923.7" y2="402" stroke="#e08040" stroke-width="3" stroke-dasharray="4 3"/>
<path d="M1917 400 L1930 400 L1923.7 410 Z" fill="#e07030"/>
<rect x="1662" y="416.5" width="432" height="15.5" fill="#6f3e98"/>
<rect x="1662" y="432" width="432" height="37" fill="#e7dbb0"/>
<text x="1818.47" y="464.40" textLength="141.77" lengthAdjust="spacingAndGlyphs" fill="#231f20"><tspan font-size="34.9">Zn metal</tspan></text>
</g>
<g id="pb">
<polygon points="189.0,665.6 193.4,665.9 197.7,665.8 202.1,665.3 206.4,665.3 210.8,665.3 215.2,665.7 219.5,665.4 223.9,665.9 228.3,665.8 232.6,666.2 237.0,666.1 241.3,665.4 245.7,665.6 250.1,665.4 254.4,665.9 258.8,665.8 263.2,665.3 267.5,665.9 271.9,665.6 276.2,665.7 280.6,666.0 285.0,665.5 289.3,665.8 293.7,666.0 298.1,666.2 302.4,665.7 306.8,665.4 311.1,665.3 315.5,666.0 319.9,666.1 324.2,665.9 328.6,665.8 333.0,666.1 337.3,665.7 341.7,665.3 346.1,665.9 350.4,666.1 354.8,665.6 359.1,665.3 363.5,665.4 367.9,665.3 372.2,665.4 376.6,665.6 381.0,665.3 385.3,665.8 389.7,666.1 394.0,665.5 398.4,665.6 402.8,666.2 407.1,665.4 411.5,665.5 415.9,665.8 420.2,665.3 424.6,665.6 428.9,666.2 433.3,665.8 437.7,665.9 442.0,666.1 446.4,666.1 450.8,665.6 455.1,665.4 459.5,665.3 463.8,665.5 468.2,665.6 472.6,665.3 476.9,665.4 481.3,665.3 485.7,665.9 490.0,665.5 494.4,665.6 498.7,666.1 503.1,665.7 507.5,665.3 511.8,665.6 516.2,666.1 520.5,665.3 524.9,665.8 529.3,665.8 533.6,665.8 538.0,666.1 542.4,665.5 546.7,665.4 551.1,665.8 555.5,665.6 559.8,666.1 564.2,666.1 568.5,666.1 572.9,665.5 577.3,665.6 581.6,665.3 586.0,665.5 590.4,666.2 594.7,666.2 599.1,666.2 603.4,665.5 607.8,665.4 612.2,665.9 616.5,666.1 620.9,665.9 625.2,665.3 629.6,666.2 634.0,666.0 638.3,665.4 642.7,665.6 647.1,666.2 651.4,665.7 655.8,666.0 660.2,665.4 664.5,666.2 668.9,665.4 673.2,666.2 677.6,665.6 682.0,665.4 686.3,666.2 690.7,665.8 695.0,665.7 699.4,666.1 703.8,665.5 708.1,665.5 712.5,665.5 716.9,665.4 721.2,665.6 725.6,665.8 730.0,665.7 734.3,665.8 738.7,665.8 743.0,665.7 747.4,665.3 751.8,665.4 756.1,666.0 760.5,665.6 764.9,665.8 769.2,665.4 773.6,665.5 777.9,666.0 782.3,665.8 786.7,666.2 791.0,665.9 795.4,665.8 799.8,665.7 804.1,665.7 808.5,665.9 812.8,666.2 817.2,665.8 821.6,666.1 825.9,665.4 830.3,665.3 834.7,665.3 839.0,666.0 843.4,665.4 847.7,665.9 852.1,666.1 856.5,665.5 860.8,665.6 865.2,666.2 869.6,665.4 873.9,665.8 878.3,665.4 882.6,666.0 887.0,665.8 891.4,665.3 895.7,665.9 900.1,665.3 904.5,666.0 908.8,665.4 913.2,665.3 917.5,665.5 921.9,665.7 926.3,666.1 930.6,665.4 935.0,665.8 939.4,665.3 943.7,665.9 948.1,665.3 952.4,665.9 956.8,665.3 961.2,665.3 965.5,665.7 969.9,665.8 974.2,665.5 978.6,665.8 983.0,665.4 987.3,665.3 991.7,665.6 996.1,666.0 1000.4,665.8 1004.8,665.6 1009.2,665.5 1013.5,666.0 1017.9,665.4 1022.2,666.2 1026.6,666.1 1031.0,665.7 1035.3,665.6 1039.7,665.9 1044.1,665.6 1048.4,666.0 1052.8,665.7 1057.1,665.3 1061.5,665.3 1061.5,732.8 1057.1,732.2 1052.8,732.4 1048.4,732.7 1044.1,732.9 1039.7,733.1 1035.3,732.6 1031.0,732.9 1026.6,732.5 1022.2,732.2 1017.9,732.5 1013.5,732.6 1009.2,732.1 1004.8,732.1 1000.4,732.2 996.1,732.4 991.7,732.4 987.3,732.3 983.0,732.2 978.6,732.3 974.2,732.2 969.9,733.0 965.5,732.4 961.2,732.9 956.8,732.9 952.4,732.9 948.1,733.0 943.7,732.5 939.4,732.1 935.0,732.8 930.6,733.0 926.3,732.3 921.9,733.0 917.5,732.2 913.2,732.9 908.8,732.3 904.5,733.0 900.1,733.1 895.7,732.6 891.4,732.4 887.0,732.5 882.6,732.1 878.3,732.4 873.9,732.4 869.6,732.5 865.2,732.9 860.8,732.6 856.5,733.0 852.1,733.0 847.7,732.2 843.4,732.8 839.0,733.0 834.7,732.7 830.3,732.3 825.9,732.5 821.6,732.2 817.2,733.0 812.8,732.3 808.5,732.9 804.1,733.0 799.8,732.6 795.4,732.8 791.0,732.6 786.7,732.5 782.3,732.8 777.9,732.6 773.6,732.3 769.2,732.6 764.9,732.9 760.5,732.6 756.1,732.6 751.8,732.5 747.4,732.9 743.0,732.3 738.7,732.1 734.3,732.6 730.0,733.0 725.6,733.0 721.2,732.5 716.9,733.0 712.5,732.5 708.1,732.7 703.8,732.4 699.4,732.3 695.0,732.9 690.7,733.0 686.3,732.7 682.0,732.1 677.6,732.6 673.2,732.7 668.9,732.9 664.5,732.9 660.2,732.2 655.8,732.2 651.4,733.0 647.1,732.5 642.7,732.9 638.3,732.9 634.0,732.6 629.6,732.9 625.2,732.7 620.9,732.9 616.5,732.6 612.2,733.0 607.8,732.3 603.4,732.3 599.1,732.4 594.7,733.1 590.4,732.5 586.0,732.8 581.6,732.4 577.3,732.1 572.9,732.6 568.5,732.8 564.2,732.9 559.8,733.1 555.5,732.3 551.1,732.9 546.7,732.8 542.4,732.4 538.0,732.8 533.6,733.1 529.3,732.1 524.9,732.2 520.5,733.0 516.2,732.2 511.8,732.3 507.5,732.2 503.1,732.6 498.7,733.1 494.4,732.2 490.0,732.4 485.7,732.2 481.3,732.9 476.9,732.4 472.6,732.2 468.2,732.1 463.8,732.2 459.5,732.1 455.1,732.7 450.8,732.5 446.4,732.9 442.0,732.9 437.7,732.1 433.3,732.7 428.9,732.8 424.6,732.6 420.2,732.5 415.9,732.3 411.5,732.6 407.1,732.3 402.8,732.2 398.4,733.0 394.0,732.5 389.7,732.9 385.3,733.0 381.0,732.5 376.6,732.9 372.2,732.3 367.9,732.8 363.5,732.2 359.1,732.5 354.8,732.7 350.4,732.4 346.1,733.1 341.7,732.8 337.3,732.7 333.0,733.0 328.6,732.5 324.2,732.7 319.9,732.4 315.5,732.6 311.1,732.7 306.8,732.6 302.4,732.8 298.1,732.2 293.7,732.4 289.3,732.9 285.0,732.6 280.6,732.8 276.2,732.4 271.9,732.7 267.5,732.5 263.2,732.3 258.8,732.1 254.4,732.4 250.1,732.7 245.7,732.9 241.3,732.2 237.0,732.4 232.6,732.1 228.3,732.5 223.9,733.0 219.5,732.3 215.2,732.9 210.8,732.2 206.4,732.5 202.1,732.6 197.7,732.4 193.4,732.1 189.0,732.2" fill="#e4393d" stroke="#cc3a48" stroke-width="1.2" stroke-opacity="0.7"/>
<polygon points="189.0,671.3 193.4,671.1 197.7,671.9 202.1,671.3 206.4,671.3 210.8,671.2 215.2,671.3 219.5,672.0 223.9,671.3 228.3,671.4 232.6,671.1 237.0,671.5 241.3,671.3 245.7,671.1 250.1,671.1 254.4,671.1 258.8,671.4 263.2,671.6 267.5,671.8 271.9,671.8 276.2,671.4 280.6,672.0 285.0,671.8 289.3,671.1 293.7,671.9 298.1,671.8 302.4,671.2 306.8,671.6 311.1,671.9 315.5,671.6 319.9,671.7 324.2,671.3 328.6,671.2 333.0,671.2 337.3,671.6 341.7,671.7 346.1,671.5 350.4,671.9 354.8,671.6 359.1,671.7 363.5,671.8 367.9,671.1 372.2,671.8 376.6,671.8 381.0,671.5 385.3,671.5 389.7,671.8 394.0,671.7 398.4,671.2 402.8,671.8 407.1,671.6 411.5,670.9 415.9,671.3 420.2,671.1 424.6,670.7 428.9,670.5 433.3,670.7 437.7,670.6 442.0,669.4 446.4,670.0 450.8,669.4 455.1,669.0 459.5,668.8 463.8,668.5 468.2,669.1 472.6,668.8 476.9,668.6 481.3,667.8 485.7,667.8 490.0,667.1 494.4,667.4 498.7,666.8 503.1,666.8 507.5,666.3 511.8,666.9 516.2,666.8 520.5,666.6 524.9,665.8 527.5,666.3 527.5,732.0 524.9,731.7 520.5,731.4 516.2,731.7 511.8,730.9 507.5,731.4 503.1,731.3 498.7,730.6 494.4,730.4 490.0,730.5 485.7,729.8 481.3,730.6 476.9,730.2 472.6,729.8 468.2,729.3 463.8,729.5 459.5,729.4 455.1,729.6 450.8,728.8 446.4,729.3 442.0,728.7 437.7,729.0 433.3,728.1 428.9,727.8 424.6,728.0 420.2,727.7 415.9,727.9 411.5,727.3 407.1,726.9 402.8,727.2 398.4,727.2 394.0,727.0 389.7,727.5 385.3,727.6 381.0,727.3 376.6,727.9 372.2,727.1 367.9,727.2 363.5,727.2 359.1,727.0 354.8,727.4 350.4,727.7 346.1,726.9 341.7,727.6 337.3,727.5 333.0,727.7 328.6,727.3 324.2,726.9 319.9,727.6 315.5,727.8 311.1,727.7 306.8,727.7 302.4,727.4 298.1,727.7 293.7,727.5 289.3,727.7 285.0,727.6 280.6,727.1 276.2,727.2 271.9,727.8 267.5,727.6 263.2,727.4 258.8,727.1 254.4,726.9 250.1,727.3 245.7,727.2 241.3,727.4 237.0,727.4 232.6,727.3 228.3,727.3 223.9,727.9 219.5,727.5 215.2,727.9 210.8,727.4 206.4,727.4 202.1,727.2 197.7,727.6 193.4,727.8 189.0,727.1" fill="#3953a5" stroke="#6a3f8a" stroke-width="1.5" stroke-opacity="0.45"/>
<rect x="527.53" y="676.715" width="64.56500000000005" height="45.79499999999996" fill="#3953a5"/>
<line x1="531.0" y1="670.9" x2="531.0" y2="677.4" stroke="#3953a5" stroke-width="0.8" opacity="0.5"/>
<line x1="531.0" y1="721.2" x2="531.0" y2="729.0" stroke="#3953a5" stroke-width="0.8" opacity="0.5"/>
<line x1="532.8" y1="670.9" x2="532.8" y2="677.4" stroke="#3953a5" stroke-width="0.8" opacity="0.5"/>
<line x1="532.8" y1="721.2" x2="532.8" y2="729.0" stroke="#3953a5" stroke-width="0.8" opacity="0.5"/>
<line x1="534.5" y1="670.9" x2="534.5" y2="677.4" stroke="#3953a5" stroke-width="0.8" opacity="0.5"/>
<line x1="534.5" y1="721.2" x2="534.5" y2="729.0" stroke="#3953a5" stroke-width="0.8" opacity="0.5"/>
<line x1="536.3" y1="670.9" x2="536.3" y2="677.4" stroke="#3953a5" stroke-width="0.8" opacity="0.5"/>
<line x1="536.3" y1="721.2" x2="536.3" y2="729.0" stroke="#3953a5" stroke-width="0.8" opacity="0.5"/>
<line x1="538.0" y1="670.9" x2="538.0" y2="677.4" stroke="#3953a5" stroke-width="0.8" opacity="0.5"/>
<line x1="538.0" y1="721.2" x2="538.0" y2="729.0" stroke="#3953a5" stroke-width="0.8" opacity="0.5"/>
<line x1="539.7" y1="670.9" x2="539.7" y2="677.4" stroke="#3953a5" stroke-width="0.8" opacity="0.5"/>
<line x1="539.7" y1="721.2" x2="539.7" y2="729.0" stroke="#3953a5" stroke-width="0.8" opacity="0.5"/>
<line x1="541.5" y1="670.9" x2="541.5" y2="677.4" stroke="#3953a5" stroke-width="0.8" opacity="0.5"/>
<line x1="541.5" y1="721.2" x2="541.5" y2="729.0" stroke="#3953a5" stroke-width="0.8" opacity="0.5"/>
<line x1="543.2" y1="670.9" x2="543.2" y2="677.4" stroke="#3953a5" stroke-width="0.8" opacity="0.5"/>
<line x1="543.2" y1="721.2" x2="543.2" y2="729.0" stroke="#3953a5" stroke-width="0.8" opacity="0.5"/>
<line x1="545.0" y1="670.9" x2="545.0" y2="677.4" stroke="#3953a5" stroke-width="0.8" opacity="0.5"/>
<line x1="545.0" y1="721.2" x2="545.0" y2="729.0" stroke="#3953a5" stroke-width="0.8" opacity="0.5"/>
<line x1="546.7" y1="670.9" x2="546.7" y2="677.4" stroke="#3953a5" stroke-width="0.8" opacity="0.5"/>
<line x1="546.7" y1="721.2" x2="546.7" y2="729.0" stroke="#3953a5" stroke-width="0.8" opacity="0.5"/>
<line x1="548.5" y1="670.9" x2="548.5" y2="677.4" stroke="#3953a5" stroke-width="0.8" opacity="0.5"/>
<line x1="548.5" y1="721.2" x2="548.5" y2="729.0" stroke="#3953a5" stroke-width="0.8" opacity="0.5"/>
<line x1="550.2" y1="670.9" x2="550.2" y2="677.4" stroke="#3953a5" stroke-width="0.8" opacity="0.5"/>
<line x1="550.2" y1="721.2" x2="550.2" y2="729.0" stroke="#3953a5" stroke-width="0.8" opacity="0.5"/>
<line x1="552.0" y1="670.9" x2="552.0" y2="677.4" stroke="#3953a5" stroke-width="0.8" opacity="0.5"/>
<line x1="552.0" y1="721.2" x2="552.0" y2="729.0" stroke="#3953a5" stroke-width="0.8" opacity="0.5"/>
<line x1="553.7" y1="670.9" x2="553.7" y2="677.4" stroke="#3953a5" stroke-width="0.8" opacity="0.5"/>
<line x1="553.7" y1="721.2" x2="553.7" y2="729.0" stroke="#3953a5" stroke-width="0.8" opacity="0.5"/>
<line x1="555.5" y1="670.9" x2="555.5" y2="677.4" stroke="#3953a5" stroke-width="0.8" opacity="0.5"/>
<line x1="555.5" y1="721.2" x2="555.5" y2="729.0" stroke="#3953a5" stroke-width="0.8" opacity="0.5"/>
<line x1="557.2" y1="670.9" x2="557.2" y2="677.4" stroke="#3953a5" stroke-width="0.8" opacity="0.5"/>
<line x1="557.2" y1="721.2" x2="557.2" y2="729.0" stroke="#3953a5" stroke-width="0.8" opacity="0.5"/>
<line x1="558.9" y1="670.9" x2="558.9" y2="677.4" stroke="#3953a5" stroke-width="0.8" opacity="0.5"/>
<line x1="558.9" y1="721.2" x2="558.9" y2="729.0" stroke="#3953a5" stroke-width="0.8" opacity="0.5"/>
<line x1="560.7" y1="670.9" x2="560.7" y2="677.4" stroke="#3953a5" stroke-width="0.8" opacity="0.5"/>
<line x1="560.7" y1="721.2" x2="560.7" y2="729.0" stroke="#3953a5" stroke-width="0.8" opacity="0.5"/>
<line x1="562.4" y1="670.9" x2="562.4" y2="677.4" stroke="#3953a5" stroke-width="0.8" opacity="0.5"/>
<line x1="562.4" y1="721.2" x2="562.4" y2="729.0" stroke="#3953a5" stroke-width="0.8" opacity="0.5"/>
<line x1="564.2" y1="670.9" x2="564.2" y2="677.4" stroke="#3953a5" stroke-width="0.8" opacity="0.5"/>
<line x1="564.2" y1="721.2" x2="564.2" y2="729.0" stroke="#3953a5" stroke-width="0.8" opacity="0.5"/>
<line x1="565.9" y1="670.9" x2="565.9" y2="677.4" stroke="#3953a5" stroke-width="0.8" opacity="0.5"/>
<line x1="565.9" y1="721.2" x2="565.9" y2="729.0" stroke="#3953a5" stroke-width="0.8" opacity="0.5"/>
<line x1="567.7" y1="670.9" x2="567.7" y2="677.4" stroke="#3953a5" stroke-width="0.8" opacity="0.5"/>
<line x1="567.7" y1="721.2" x2="567.7" y2="729.0" stroke="#3953a5" stroke-width="0.8" opacity="0.5"/>
<line x1="569.4" y1="670.9" x2="569.4" y2="677.4" stroke="#3953a5" stroke-width="0.8" opacity="0.5"/>
<line x1="569.4" y1="721.2" x2="569.4" y2="729.0" stroke="#3953a5" stroke-width="0.8" opacity="0.5"/>
<line x1="571.2" y1="670.9" x2="571.2" y2="677.4" stroke="#3953a5" stroke-width="0.8" opacity="0.5"/>
<line x1="571.2" y1="721.2" x2="571.2" y2="729.0" stroke="#3953a5" stroke-width="0.8" opacity="0.5"/>
<line x1="572.9" y1="670.9" x2="572.9" y2="677.4" stroke="#3953a5" stroke-width="0.8" opacity="0.5"/>
<line x1="572.9" y1="721.2" x2="572.9" y2="729.0" stroke="#3953a5" stroke-width="0.8" opacity="0.5"/>
<line x1="574.6" y1="670.9" x2="574.6" y2="677.4" stroke="#3953a5" stroke-width="0.8" opacity="0.5"/>
<line x1="574.6" y1="721.2" x2="574.6" y2="729.0" stroke="#3953a5" stroke-width="0.8" opacity="0.5"/>
<line x1="576.4" y1="670.9" x2="576.4" y2="677.4" stroke="#3953a5" stroke-width="0.8" opacity="0.5"/>
<line x1="576.4" y1="721.2" x2="576.4" y2="729.0" stroke="#3953a5" stroke-width="0.8" opacity="0.5"/>
<line x1="578.1" y1="670.9" x2="578.1" y2="677.4" stroke="#3953a5" stroke-width="0.8" opacity="0.5"/>
<line x1="578.1" y1="721.2" x2="578.1" y2="729.0" stroke="#3953a5" stroke-width="0.8" opacity="0.5"/>
<line x1="579.9" y1="670.9" x2="579.9" y2="677.4" stroke="#3953a5" stroke-width="0.8" opacity="0.5"/>
<line x1="579.9" y1="721.2" x2="579.9" y2="729.0" stroke="#3953a5" stroke-width="0.8" opacity="0.5"/>
<line x1="581.6" y1="670.9" x2="581.6" y2="677.4" stroke="#3953a5" stroke-width="0.8" opacity="0.5"/>
<line x1="581.6" y1="721.2" x2="581.6" y2="729.0" stroke="#3953a5" stroke-width="0.8" opacity="0.5"/>
<line x1="583.4" y1="670.9" x2="583.4" y2="677.4" stroke="#3953a5" stroke-width="0.8" opacity="0.5"/>
<line x1="583.4" y1="721.2" x2="583.4" y2="729.0" stroke="#3953a5" stroke-width="0.8" opacity="0.5"/>
<line x1="585.1" y1="670.9" x2="585.1" y2="677.4" stroke="#3953a5" stroke-width="0.8" opacity="0.5"/>
<line x1="585.1" y1="721.2" x2="585.1" y2="729.0" stroke="#3953a5" stroke-width="0.8" opacity="0.5"/>
<line x1="586.9" y1="670.9" x2="586.9" y2="677.4" stroke="#3953a5" stroke-width="0.8" opacity="0.5"/>
<line x1="586.9" y1="721.2" x2="586.9" y2="729.0" stroke="#3953a5" stroke-width="0.8" opacity="0.5"/>
<line x1="588.6" y1="670.9" x2="588.6" y2="677.4" stroke="#3953a5" stroke-width="0.8" opacity="0.5"/>
<line x1="588.6" y1="721.2" x2="588.6" y2="729.0" stroke="#3953a5" stroke-width="0.8" opacity="0.5"/>
<line x1="590.4" y1="670.9" x2="590.4" y2="677.4" stroke="#3953a5" stroke-width="0.8" opacity="0.5"/>
<line x1="590.4" y1="721.2" x2="590.4" y2="729.0" stroke="#3953a5" stroke-width="0.8" opacity="0.5"/>
<line x1="592.1" y1="670.9" x2="592.1" y2="677.4" stroke="#3953a5" stroke-width="0.8" opacity="0.5"/>
<line x1="592.1" y1="721.2" x2="592.1" y2="729.0" stroke="#3953a5" stroke-width="0.8" opacity="0.5"/>
<line x1="593.8" y1="670.9" x2="593.8" y2="677.4" stroke="#3953a5" stroke-width="0.8" opacity="0.5"/>
<line x1="593.8" y1="721.2" x2="593.8" y2="729.0" stroke="#3953a5" stroke-width="0.8" opacity="0.5"/>
<line x1="595.6" y1="670.9" x2="595.6" y2="677.4" stroke="#3953a5" stroke-width="0.8" opacity="0.5"/>
<line x1="595.6" y1="721.2" x2="595.6" y2="729.0" stroke="#3953a5" stroke-width="0.8" opacity="0.5"/>
<line x1="597.3" y1="670.9" x2="597.3" y2="677.4" stroke="#3953a5" stroke-width="0.8" opacity="0.5"/>
<line x1="597.3" y1="721.2" x2="597.3" y2="729.0" stroke="#3953a5" stroke-width="0.8" opacity="0.5"/>
<line x1="599.1" y1="670.9" x2="599.1" y2="677.4" stroke="#3953a5" stroke-width="0.8" opacity="0.5"/>
<line x1="599.1" y1="721.2" x2="599.1" y2="729.0" stroke="#3953a5" stroke-width="0.8" opacity="0.5"/>
<line x1="536.3" y1="672.2" x2="536.3" y2="744.4" stroke="#3953a5" stroke-width="2.4"/>
<rect x="592" y="665.1" width="73" height="67.7" fill="#3953a5"/>
<path d="M593 664 C597 656 605 652 613 650 C622 648 632 647 642 649 C652 651 660 655 665 662 L665 734 C660 740 652 743 642 745 C632 747 622 747 613 746 C605 744 597 740 593 734 Z" fill="#3953a5"/>
<line x1="592.5" y1="662.0" x2="592.5" y2="735.0" stroke="#3953a5" stroke-width="1.4"/>
<line x1="593.8" y1="659.8" x2="593.8" y2="735.3" stroke="#3953a5" stroke-width="1.4"/>
<line x1="595.1" y1="658.3" x2="595.1" y2="737.7" stroke="#3953a5" stroke-width="1.4"/>
<line x1="596.4" y1="655.8" x2="596.4" y2="739.2" stroke="#3953a5" stroke-width="1.4"/>
<line x1="597.7" y1="656.2" x2="597.7" y2="738.1" stroke="#3953a5" stroke-width="1.4"/>
<line x1="599.0" y1="654.8" x2="599.0" y2="738.6" stroke="#3953a5" stroke-width="1.4"/>
<line x1="600.3" y1="655.3" x2="600.3" y2="743.5" stroke="#3953a5" stroke-width="1.4"/>
<line x1="601.6" y1="648.7" x2="601.6" y2="743.8" stroke="#3953a5" stroke-width="1.4"/>
<line x1="602.9" y1="648.1" x2="602.9" y2="745.6" stroke="#3953a5" stroke-width="1.4"/>
<line x1="604.2" y1="646.9" x2="604.2" y2="744.0" stroke="#3953a5" stroke-width="1.4"/>
<line x1="605.5" y1="651.2" x2="605.5" y2="740.8" stroke="#3953a5" stroke-width="1.4"/>
<line x1="606.8" y1="651.5" x2="606.8" y2="744.4" stroke="#3953a5" stroke-width="1.4"/>
<line x1="608.1" y1="650.6" x2="608.1" y2="746.5" stroke="#3953a5" stroke-width="1.4"/>
<line x1="609.4" y1="652.9" x2="609.4" y2="743.1" stroke="#3953a5" stroke-width="1.4"/>
<line x1="610.7" y1="642.1" x2="610.7" y2="749.2" stroke="#3953a5" stroke-width="1.4"/>
<line x1="612.0" y1="623.3" x2="612.0" y2="759.2" stroke="#3953a5" stroke-width="1.4"/>
<line x1="613.3" y1="611.7" x2="613.3" y2="764.1" stroke="#3953a5" stroke-width="1.4"/>
<line x1="614.6" y1="603.6" x2="614.6" y2="752.2" stroke="#3953a5" stroke-width="1.4"/>
<line x1="615.9" y1="614.6" x2="615.9" y2="750.2" stroke="#3953a5" stroke-width="1.4"/>
<line x1="617.2" y1="614.2" x2="617.2" y2="750.0" stroke="#3953a5" stroke-width="1.4"/>
<line x1="618.5" y1="640.4" x2="618.5" y2="745.8" stroke="#3953a5" stroke-width="1.4"/>
<line x1="619.8" y1="642.9" x2="619.8" y2="759.0" stroke="#3953a5" stroke-width="1.4"/>
<line x1="621.1" y1="634.1" x2="621.1" y2="754.0" stroke="#3953a5" stroke-width="1.4"/>
<line x1="622.4" y1="619.7" x2="622.4" y2="771.9" stroke="#3953a5" stroke-width="1.4"/>
<line x1="623.7" y1="625.1" x2="623.7" y2="748.9" stroke="#3953a5" stroke-width="1.4"/>
<line x1="625.0" y1="628.0" x2="625.0" y2="747.8" stroke="#3953a5" stroke-width="1.4"/>
<line x1="626.3" y1="605.4" x2="626.3" y2="748.9" stroke="#3953a5" stroke-width="1.4"/>
<line x1="627.6" y1="609.3" x2="627.6" y2="755.4" stroke="#3953a5" stroke-width="1.4"/>
<line x1="628.9" y1="613.3" x2="628.9" y2="778.4" stroke="#3953a5" stroke-width="1.4"/>
<line x1="630.2" y1="613.8" x2="630.2" y2="767.7" stroke="#3953a5" stroke-width="1.4"/>
<line x1="631.5" y1="618.6" x2="631.5" y2="758.1" stroke="#3953a5" stroke-width="1.4"/>
<line x1="632.8" y1="598.6" x2="632.8" y2="753.1" stroke="#3953a5" stroke-width="1.4"/>
<line x1="634.1" y1="600.9" x2="634.1" y2="756.0" stroke="#3953a5" stroke-width="1.4"/>
<line x1="635.4" y1="527.6" x2="635.4" y2="757.9" stroke="#3953a5" stroke-width="1.4"/>
<line x1="636.7" y1="589.3" x2="636.7" y2="783.6" stroke="#3953a5" stroke-width="1.4"/>
<line x1="638.0" y1="583.8" x2="638.0" y2="769.8" stroke="#3953a5" stroke-width="1.4"/>
<line x1="639.3" y1="617.4" x2="639.3" y2="760.6" stroke="#3953a5" stroke-width="1.4"/>
<line x1="640.6" y1="620.5" x2="640.6" y2="756.9" stroke="#3953a5" stroke-width="1.4"/>
<line x1="641.9" y1="617.3" x2="641.9" y2="758.3" stroke="#3953a5" stroke-width="1.4"/>
<line x1="643.2" y1="633.0" x2="643.2" y2="743.2" stroke="#3953a5" stroke-width="1.4"/>
<line x1="644.5" y1="650.2" x2="644.5" y2="746.9" stroke="#3953a5" stroke-width="1.4"/>
<line x1="645.8" y1="641.8" x2="645.8" y2="743.8" stroke="#3953a5" stroke-width="1.4"/>
<line x1="647.1" y1="649.2" x2="647.1" y2="739.5" stroke="#3953a5" stroke-width="1.4"/>
<line x1="648.4" y1="652.0" x2="648.4" y2="744.3" stroke="#3953a5" stroke-width="1.4"/>
<line x1="649.7" y1="649.2" x2="649.7" y2="743.1" stroke="#3953a5" stroke-width="1.4"/>
<line x1="651.0" y1="649.2" x2="651.0" y2="739.3" stroke="#3953a5" stroke-width="1.4"/>
<line x1="652.3" y1="656.5" x2="652.3" y2="738.4" stroke="#3953a5" stroke-width="1.4"/>
<line x1="653.6" y1="654.6" x2="653.6" y2="740.0" stroke="#3953a5" stroke-width="1.4"/>
<line x1="654.9" y1="653.2" x2="654.9" y2="739.4" stroke="#3953a5" stroke-width="1.4"/>
<line x1="656.2" y1="655.9" x2="656.2" y2="738.7" stroke="#3953a5" stroke-width="1.4"/>
<line x1="657.5" y1="657.7" x2="657.5" y2="737.3" stroke="#3953a5" stroke-width="1.4"/>
<line x1="658.8" y1="660.0" x2="658.8" y2="737.1" stroke="#3953a5" stroke-width="1.4"/>
<line x1="660.1" y1="660.0" x2="660.1" y2="736.7" stroke="#3953a5" stroke-width="1.4"/>
<line x1="661.4" y1="659.7" x2="661.4" y2="735.3" stroke="#3953a5" stroke-width="1.4"/>
<line x1="662.7" y1="661.5" x2="662.7" y2="734.8" stroke="#3953a5" stroke-width="1.4"/>
<line x1="664.0" y1="661.5" x2="664.0" y2="734.5" stroke="#3953a5" stroke-width="1.4"/>
<line x1="596" y1="651" x2="596" y2="700" stroke="#3953a5" stroke-width="2.4"/>
<line x1="600" y1="652" x2="600" y2="700" stroke="#3953a5" stroke-width="2.4"/>
<line x1="603" y1="644" x2="603" y2="700" stroke="#3953a5" stroke-width="2.4"/>
<line x1="606" y1="650" x2="606" y2="700" stroke="#3953a5" stroke-width="2.4"/>
<line x1="609" y1="648" x2="609" y2="700" stroke="#3953a5" stroke-width="2.4"/>
<line x1="611" y1="640" x2="611" y2="700" stroke="#3953a5" stroke-width="2.4"/>
<line x1="613" y1="574" x2="613" y2="700" stroke="#3953a5" stroke-width="2.4"/>
<line x1="615" y1="610" x2="615" y2="700" stroke="#3953a5" stroke-width="2.4"/>
<line x1="617" y1="595" x2="617" y2="700" stroke="#3953a5" stroke-width="2.4"/>
<line x1="619" y1="630" x2="619" y2="700" stroke="#3953a5" stroke-width="2.4"/>
<line x1="622" y1="620" x2="622" y2="700" stroke="#3953a5" stroke-width="2.4"/>
<line x1="625" y1="600" x2="625" y2="700" stroke="#3953a5" stroke-width="2.4"/>
<line x1="627" y1="558" x2="627" y2="700" stroke="#3953a5" stroke-width="2.4"/>
<line x1="629" y1="600" x2="629" y2="700" stroke="#3953a5" stroke-width="2.4"/>
<line x1="631" y1="610" x2="631" y2="700" stroke="#3953a5" stroke-width="2.4"/>
<line x1="633" y1="560" x2="633" y2="700" stroke="#3953a5" stroke-width="2.4"/>
<line x1="635" y1="514" x2="635" y2="700" stroke="#3953a5" stroke-width="2.4"/>
<line x1="637" y1="570" x2="637" y2="700" stroke="#3953a5" stroke-width="2.4"/>
<line x1="640" y1="592" x2="640" y2="700" stroke="#3953a5" stroke-width="2.4"/>
<line x1="643" y1="630" x2="643" y2="700" stroke="#3953a5" stroke-width="2.4"/>
<line x1="647" y1="645" x2="647" y2="700" stroke="#3953a5" stroke-width="2.4"/>
<line x1="652" y1="650" x2="652" y2="700" stroke="#3953a5" stroke-width="2.4"/>
<line x1="658" y1="656" x2="658" y2="700" stroke="#3953a5" stroke-width="2.4"/>
<line x1="597" y1="700" x2="597" y2="740" stroke="#3953a5" stroke-width="2.4"/>
<line x1="600.5" y1="700" x2="600.5" y2="744" stroke="#3953a5" stroke-width="2.4"/>
<line x1="605" y1="700" x2="605" y2="748" stroke="#3953a5" stroke-width="2.4"/>
<line x1="609" y1="700" x2="609" y2="750" stroke="#3953a5" stroke-width="2.4"/>
<line x1="612" y1="700" x2="612" y2="773.5" stroke="#3953a5" stroke-width="2.4"/>
<line x1="616" y1="700" x2="616" y2="760" stroke="#3953a5" stroke-width="2.4"/>
<line x1="619" y1="700" x2="619" y2="755" stroke="#3953a5" stroke-width="2.4"/>
<line x1="622" y1="700" x2="622" y2="775" stroke="#3953a5" stroke-width="2.4"/>
<line x1="624" y1="700" x2="624" y2="760" stroke="#3953a5" stroke-width="2.4"/>
<line x1="627" y1="700" x2="627" y2="765" stroke="#3953a5" stroke-width="2.4"/>
<line x1="629.8" y1="700" x2="629.8" y2="789" stroke="#3953a5" stroke-width="2.4"/>
<line x1="632" y1="700" x2="632" y2="760" stroke="#3953a5" stroke-width="2.4"/>
<line x1="635" y1="700" x2="635" y2="775" stroke="#3953a5" stroke-width="2.4"/>
<line x1="637.4" y1="700" x2="637.4" y2="805" stroke="#3953a5" stroke-width="2.4"/>
<line x1="640" y1="700" x2="640" y2="770" stroke="#3953a5" stroke-width="2.4"/>
<line x1="644" y1="700" x2="644" y2="750" stroke="#3953a5" stroke-width="2.4"/>
<line x1="648" y1="700" x2="648" y2="745" stroke="#3953a5" stroke-width="2.4"/>
<line x1="652.7" y1="700" x2="652.7" y2="742" stroke="#3953a5" stroke-width="2.4"/>
<line x1="658" y1="700" x2="658" y2="738" stroke="#3953a5" stroke-width="2.4"/>
<path d="M189 504.6 H1063 V828.4 H189 Z" fill="none" stroke="#7b7b7b" stroke-width="2.2"/>
<line x1="178" y1="543.2" x2="189" y2="543.2" stroke="#7b7b7b" stroke-width="2.2"/>
<text x="124.88" y="553.30" textLength="50.15" lengthAdjust="spacingAndGlyphs" fill="#231f20"><tspan font-size="26.4">0.12</tspan></text>
<line x1="178" y1="620.6" x2="189" y2="620.6" stroke="#7b7b7b" stroke-width="2.2"/>
<text x="124.78" y="630.70" textLength="50.15" lengthAdjust="spacingAndGlyphs" fill="#231f20"><tspan font-size="26.4">0.06</tspan></text>
<line x1="178" y1="698.0" x2="189" y2="698.0" stroke="#7b7b7b" stroke-width="2.2"/>
<text x="124.91" y="708.10" textLength="50.15" lengthAdjust="spacingAndGlyphs" fill="#231f20"><tspan font-size="26.4">0.00</tspan></text>
<line x1="178" y1="775.4" x2="189" y2="775.4" stroke="#7b7b7b" stroke-width="2.2"/>
<text x="109.73" y="785.50" textLength="65.20" lengthAdjust="spacingAndGlyphs" fill="#231f20"><tspan font-size="26.4">−0.06</tspan></text>
<line x1="183" y1="581.9" x2="189" y2="581.9" stroke="#7b7b7b" stroke-width="2"/>
<line x1="183" y1="659.3" x2="189" y2="659.3" stroke="#7b7b7b" stroke-width="2"/>
<line x1="183" y1="736.7" x2="189" y2="736.7" stroke="#7b7b7b" stroke-width="2"/>
<line x1="183" y1="814.1" x2="189" y2="814.1" stroke="#7b7b7b" stroke-width="2"/>
<line x1="189.0" y1="828.4" x2="189.0" y2="840.4" stroke="#7b7b7b" stroke-width="2.2"/>
<line x1="276.2" y1="828.4" x2="276.2" y2="835.4" stroke="#7b7b7b" stroke-width="2.2"/>
<line x1="363.5" y1="828.4" x2="363.5" y2="840.4" stroke="#7b7b7b" stroke-width="2.2"/>
<line x1="450.8" y1="828.4" x2="450.8" y2="835.4" stroke="#7b7b7b" stroke-width="2.2"/>
<line x1="538.0" y1="828.4" x2="538.0" y2="840.4" stroke="#7b7b7b" stroke-width="2.2"/>
<line x1="625.2" y1="828.4" x2="625.2" y2="835.4" stroke="#7b7b7b" stroke-width="2.2"/>
<line x1="712.5" y1="828.4" x2="712.5" y2="840.4" stroke="#7b7b7b" stroke-width="2.2"/>
<line x1="799.8" y1="828.4" x2="799.8" y2="835.4" stroke="#7b7b7b" stroke-width="2.2"/>
<line x1="887.0" y1="828.4" x2="887.0" y2="840.4" stroke="#7b7b7b" stroke-width="2.2"/>
<line x1="974.2" y1="828.4" x2="974.2" y2="835.4" stroke="#7b7b7b" stroke-width="2.2"/>
<line x1="1061.5" y1="828.4" x2="1061.5" y2="840.4" stroke="#7b7b7b" stroke-width="2.2"/>
<text x="183.51" y="872.20" textLength="14.42" lengthAdjust="spacingAndGlyphs" fill="#231f20"><tspan font-size="27">0</tspan></text>
<text x="343.66" y="872.20" textLength="43.25" lengthAdjust="spacingAndGlyphs" fill="#231f20"><tspan font-size="27">200</tspan></text>
<text x="518.41" y="872.20" textLength="43.25" lengthAdjust="spacingAndGlyphs" fill="#231f20"><tspan font-size="27">400</tspan></text>
<text x="692.63" y="872.20" textLength="43.25" lengthAdjust="spacingAndGlyphs" fill="#231f20"><tspan font-size="27">600</tspan></text>
<text x="867.20" y="872.20" textLength="43.25" lengthAdjust="spacingAndGlyphs" fill="#231f20"><tspan font-size="27">800</tspan></text>
<text x="1030.48" y="872.20" textLength="64.86" lengthAdjust="spacingAndGlyphs" fill="#231f20"><tspan font-size="27">1 000</tspan></text>
<text x="582.01" y="908.00" textLength="82.07" lengthAdjust="spacingAndGlyphs" fill="#231f20"><tspan font-size="27">Time/h</tspan></text>
<text x="-0.17" y="0.00" textLength="115.05" lengthAdjust="spacingAndGlyphs" fill="#231f20" transform="translate(109.6,742) rotate(-90)"><tspan font-size="27.5">Voltage/V</tspan></text>
<line x1="278" y1="794.5" x2="332.5" y2="794.5" stroke="#3953a5" stroke-width="4.5"/>
<text x="340.92" y="802.00" textLength="121.18" lengthAdjust="spacingAndGlyphs" fill="#231f20"><tspan font-size="26.2">ZnCl</tspan><tspan font-size="13.62" dy="4.32">2</tspan><tspan font-size="26.2" dy="-4.32">-H</tspan><tspan font-size="13.62" dy="4.32">2</tspan><tspan font-size="26.2" dy="-4.32">O</tspan></text>
<line x1="681" y1="794.5" x2="736" y2="794.5" stroke="#e8383c" stroke-width="4.5"/>
<text x="748.23" y="802.00" textLength="206.26" lengthAdjust="spacingAndGlyphs" fill="#231f20"><tspan font-size="26.2">ZnCl</tspan><tspan font-size="13.62" dy="4.32">2</tspan><tspan font-size="26.2" dy="-4.32">-H</tspan><tspan font-size="13.62" dy="4.32">2</tspan><tspan font-size="26.2" dy="-4.32">O-DMSO</tspan></text>
<rect x="196.8" y="516.3" width="383.90000000000003" height="116.5" fill="#ffffff" opacity="0.85"/>
<rect x="246.8" y="522.3" width="321.90000000000003" height="76.5" fill="#fbfbfd" stroke="#c9c9cc" stroke-width="2"/>
<path d="M246.8 573.8 L251.6 574.8 L258.1 576.3 L266.1 577.3 L274.2 579.3 L279.0 582.8 L279.0 545.3 L281.6 547.8 L288.6 547.8 L301.5 546.3 L308.9 544.3 L311.2 541.3 L311.2 573.8 L316.0 574.8 L322.4 576.3 L330.5 577.3 L338.5 579.3 L343.4 582.8 L343.4 545.3 L345.9 547.8 L353.0 547.8 L365.9 546.3 L373.3 544.3 L375.6 541.3 L375.6 573.8 L380.4 574.8 L386.8 576.3 L394.9 577.3 L402.9 579.3 L407.8 582.8 L407.8 545.3 L410.3 547.8 L417.4 547.8 L430.3 546.3 L437.7 544.3 L439.9 541.3 L439.9 573.8 L444.8 574.8 L451.2 576.3 L459.3 577.3 L467.3 579.3 L472.1 582.8 L472.1 545.3 L474.7 547.8 L481.8 547.8 L494.7 546.3 L502.1 544.3 L504.3 541.3 L504.3 573.8 L509.1 574.8 L515.6 576.3 L523.6 577.3 L531.7 579.3 L536.5 582.8 L536.5 545.3 L539.1 547.8 L546.2 547.8 L559.0 546.3 L566.4 544.3 L568.7 541.3 " fill="none" stroke="#c04060" stroke-width="3.6" stroke-linejoin="round" opacity="0.9"/>
<path d="M246.8 572.5 L251.6 573.5 L258.1 575.0 L266.1 576.0 L274.2 578.0 L279.0 581.5 L279.0 544.0 L281.6 546.5 L288.6 546.5 L301.5 545.0 L308.9 543.0 L311.2 540.0 L311.2 572.5 L316.0 573.5 L322.4 575.0 L330.5 576.0 L338.5 578.0 L343.4 581.5 L343.4 544.0 L345.9 546.5 L353.0 546.5 L365.9 545.0 L373.3 543.0 L375.6 540.0 L375.6 572.5 L380.4 573.5 L386.8 575.0 L394.9 576.0 L402.9 578.0 L407.8 581.5 L407.8 544.0 L410.3 546.5 L417.4 546.5 L430.3 545.0 L437.7 543.0 L439.9 540.0 L439.9 572.5 L444.8 573.5 L451.2 575.0 L459.3 576.0 L467.3 578.0 L472.1 581.5 L472.1 544.0 L474.7 546.5 L481.8 546.5 L494.7 545.0 L502.1 543.0 L504.3 540.0 L504.3 572.5 L509.1 573.5 L515.6 575.0 L523.6 576.0 L531.7 578.0 L536.5 581.5 L536.5 544.0 L539.1 546.5 L546.2 546.5 L559.0 545.0 L566.4 543.0 L568.7 540.0 " fill="none" stroke="#3b4b9c" stroke-width="2.8" stroke-linejoin="round" opacity="0.9"/>
<text x="206.32" y="536.40" textLength="39.29" lengthAdjust="spacingAndGlyphs" fill="#231f20"><tspan font-size="20.6">0.04</tspan></text>
<text x="207.04" y="568.30" textLength="39.29" lengthAdjust="spacingAndGlyphs" fill="#231f20"><tspan font-size="20.6">0.00</tspan></text>
<text x="194.53" y="597.50" textLength="51.08" lengthAdjust="spacingAndGlyphs" fill="#231f20"><tspan font-size="20.6">−0.04</tspan></text>
<text x="231.02" y="626.60" textLength="33.68" lengthAdjust="spacingAndGlyphs" fill="#231f20"><tspan font-size="20.6">200</tspan></text>
<text x="295.39" y="626.60" textLength="33.68" lengthAdjust="spacingAndGlyphs" fill="#231f20"><tspan font-size="20.6">202</tspan></text>
<text x="359.42" y="626.60" textLength="33.68" lengthAdjust="spacingAndGlyphs" fill="#231f20"><tspan font-size="20.6">204</tspan></text>
<text x="424.11" y="626.60" textLength="33.68" lengthAdjust="spacingAndGlyphs" fill="#231f20"><tspan font-size="20.6">206</tspan></text>
<text x="488.44" y="626.60" textLength="33.68" lengthAdjust="spacingAndGlyphs" fill="#231f20"><tspan font-size="20.6">208</tspan></text>
<text x="552.92" y="626.60" textLength="33.68" lengthAdjust="spacingAndGlyphs" fill="#231f20"><tspan font-size="20.6">210</tspan></text>
<rect x="654.8" y="517.3" width="384.79999999999995" height="116.70000000000005" fill="#ffffff" opacity="0.85"/>
<rect x="704.8" y="523.3" width="322.79999999999995" height="76.70000000000005" fill="#fbfbfd" stroke="#c9c9cc" stroke-width="2"/>
<path d="M704.8 576.8 L737.1 582.8 L737.1 548.8 L739.0 547.8 L769.4 543.3 L769.4 576.8 L801.6 582.8 L801.6 548.8 L803.6 547.8 L833.9 543.3 L833.9 576.8 L866.2 582.8 L866.2 548.8 L868.1 547.8 L898.5 543.3 L898.5 576.8 L930.8 582.8 L930.8 548.8 L932.7 547.8 L963.0 543.3 L963.0 576.8 L995.3 582.8 L995.3 548.8 L997.3 547.8 L1027.6 543.3 " fill="none" stroke="#e68090" stroke-width="3.6" stroke-linejoin="round" opacity="0.9"/>
<path d="M704.8 575.5 L737.1 581.5 L737.1 547.5 L739.0 546.5 L769.4 542.0 L769.4 575.5 L801.6 581.5 L801.6 547.5 L803.6 546.5 L833.9 542.0 L833.9 575.5 L866.2 581.5 L866.2 547.5 L868.1 546.5 L898.5 542.0 L898.5 575.5 L930.8 581.5 L930.8 547.5 L932.7 546.5 L963.0 542.0 L963.0 575.5 L995.3 581.5 L995.3 547.5 L997.3 546.5 L1027.6 542.0 " fill="none" stroke="#c63e52" stroke-width="2.8" stroke-linejoin="round" opacity="0.9"/>
<text x="660.82" y="536.40" textLength="39.29" lengthAdjust="spacingAndGlyphs" fill="#231f20"><tspan font-size="20.6">0.04</tspan></text>
<text x="661.54" y="568.30" textLength="39.29" lengthAdjust="spacingAndGlyphs" fill="#231f20"><tspan font-size="20.6">0.00</tspan></text>
<text x="649.03" y="597.50" textLength="51.08" lengthAdjust="spacingAndGlyphs" fill="#231f20"><tspan font-size="20.6">−0.04</tspan></text>
<text x="689.05" y="626.60" textLength="33.68" lengthAdjust="spacingAndGlyphs" fill="#231f20"><tspan font-size="20.6">880</tspan></text>
<text x="753.60" y="626.60" textLength="33.68" lengthAdjust="spacingAndGlyphs" fill="#231f20"><tspan font-size="20.6">882</tspan></text>
<text x="817.81" y="626.60" textLength="33.68" lengthAdjust="spacingAndGlyphs" fill="#231f20"><tspan font-size="20.6">884</tspan></text>
<text x="882.68" y="626.60" textLength="33.68" lengthAdjust="spacingAndGlyphs" fill="#231f20"><tspan font-size="20.6">886</tspan></text>
<text x="947.19" y="626.60" textLength="33.68" lengthAdjust="spacingAndGlyphs" fill="#231f20"><tspan font-size="20.6">888</tspan></text>
<text x="1011.85" y="626.60" textLength="33.68" lengthAdjust="spacingAndGlyphs" fill="#231f20"><tspan font-size="20.6">890</tspan></text>
</g>
<g id="pd">
<rect x="1281.5" y="500.6" width="45" height="139.5" fill="url(#gPink)"/>
<rect x="1326.5" y="500.6" width="47.5" height="206.4" fill="url(#gCyan)"/>
<rect x="1587.5" y="500.6" width="45" height="139.5" fill="url(#gPink)"/>
<rect x="1632.5" y="500.6" width="47.5" height="206.4" fill="url(#gCyan)"/>
<rect x="1894.5" y="500.6" width="45" height="139.5" fill="url(#gPink)"/>
<rect x="1939.5" y="500.6" width="47.5" height="206.4" fill="url(#gCyan)"/>
<circle cx="1248.4" cy="675.9" r="8" fill="#5a4098"/><circle cx="1265.4" cy="680.6" r="8" fill="#5a4098"/><circle cx="1282.4" cy="685.3" r="8" fill="#5a4098"/><circle cx="1253.4" cy="695.6" r="8" fill="#5a4098"/><circle cx="1270.4" cy="700.3" r="8" fill="#5a4098"/><circle cx="1287.4" cy="705.0" r="8" fill="#5a4098"/><circle cx="1258.4" cy="715.3" r="8" fill="#5a4098"/><circle cx="1275.4" cy="720.0" r="8" fill="#5a4098"/><circle cx="1292.4" cy="724.7" r="8" fill="#5a4098"/><circle cx="1237.4" cy="663.7" r="8.2" fill="url(#gZn)" stroke="#44307e" stroke-width="1.2"/><circle cx="1254.4" cy="668.4" r="8.2" fill="url(#gZn)" stroke="#44307e" stroke-width="1.2"/><circle cx="1271.4" cy="673.1" r="8.2" fill="url(#gZn)" stroke="#44307e" stroke-width="1.2"/><circle cx="1288.4" cy="677.8" r="8.2" fill="url(#gZn)" stroke="#44307e" stroke-width="1.2"/><circle cx="1242.4" cy="683.4" r="8.2" fill="url(#gZn)" stroke="#44307e" stroke-width="1.2"/><circle cx="1259.4" cy="688.1" r="8.2" fill="url(#gZn)" stroke="#44307e" stroke-width="1.2"/><circle cx="1276.4" cy="692.8" r="8.2" fill="url(#gZn)" stroke="#44307e" stroke-width="1.2"/><circle cx="1293.4" cy="697.5" r="8.2" fill="url(#gZn)" stroke="#44307e" stroke-width="1.2"/><circle cx="1247.4" cy="703.1" r="8.2" fill="url(#gZn)" stroke="#44307e" stroke-width="1.2"/><circle cx="1264.4" cy="707.8" r="8.2" fill="url(#gZn)" stroke="#44307e" stroke-width="1.2"/><circle cx="1281.4" cy="712.5" r="8.2" fill="url(#gZn)" stroke="#44307e" stroke-width="1.2"/><circle cx="1298.4" cy="717.2" r="8.2" fill="url(#gZn)" stroke="#44307e" stroke-width="1.2"/><circle cx="1252.4" cy="722.8" r="8.2" fill="url(#gZn)" stroke="#44307e" stroke-width="1.2"/><circle cx="1269.4" cy="727.5" r="8.2" fill="url(#gZn)" stroke="#44307e" stroke-width="1.2"/><circle cx="1286.4" cy="732.2" r="8.2" fill="url(#gZn)" stroke="#44307e" stroke-width="1.2"/><circle cx="1303.4" cy="736.9" r="8.2" fill="url(#gZn)" stroke="#44307e" stroke-width="1.2"/><circle cx="1270.3" cy="704.8" r="4.5" fill="#d83040"/><circle cx="1273.3" cy="708.8" r="2" fill="#ffdddd"/>
<circle cx="1557.2" cy="682.5" r="8" fill="#5a4098"/><circle cx="1573.4" cy="680.3" r="8" fill="#5a4098"/><circle cx="1589.6" cy="678.1" r="8" fill="#5a4098"/><circle cx="1550.2" cy="701.5" r="8" fill="#5a4098"/><circle cx="1566.4" cy="699.3" r="8" fill="#5a4098"/><circle cx="1582.6" cy="697.1" r="8" fill="#5a4098"/><circle cx="1543.2" cy="720.5" r="8" fill="#5a4098"/><circle cx="1559.4" cy="718.3" r="8" fill="#5a4098"/><circle cx="1575.6" cy="716.1" r="8" fill="#5a4098"/><circle cx="1552.6" cy="674.1" r="8.2" fill="url(#gZn)" stroke="#44307e" stroke-width="1.2"/><circle cx="1568.8" cy="671.9" r="8.2" fill="url(#gZn)" stroke="#44307e" stroke-width="1.2"/><circle cx="1585.0" cy="669.7" r="8.2" fill="url(#gZn)" stroke="#44307e" stroke-width="1.2"/><circle cx="1601.2" cy="667.5" r="8.2" fill="url(#gZn)" stroke="#44307e" stroke-width="1.2"/><circle cx="1545.6" cy="693.1" r="8.2" fill="url(#gZn)" stroke="#44307e" stroke-width="1.2"/><circle cx="1561.8" cy="690.9" r="8.2" fill="url(#gZn)" stroke="#44307e" stroke-width="1.2"/><circle cx="1578.0" cy="688.7" r="8.2" fill="url(#gZn)" stroke="#44307e" stroke-width="1.2"/><circle cx="1594.2" cy="686.5" r="8.2" fill="url(#gZn)" stroke="#44307e" stroke-width="1.2"/><circle cx="1538.6" cy="712.1" r="8.2" fill="url(#gZn)" stroke="#44307e" stroke-width="1.2"/><circle cx="1554.8" cy="709.9" r="8.2" fill="url(#gZn)" stroke="#44307e" stroke-width="1.2"/><circle cx="1571.0" cy="707.7" r="8.2" fill="url(#gZn)" stroke="#44307e" stroke-width="1.2"/><circle cx="1587.2" cy="705.5" r="8.2" fill="url(#gZn)" stroke="#44307e" stroke-width="1.2"/><circle cx="1531.6" cy="731.1" r="8.2" fill="url(#gZn)" stroke="#44307e" stroke-width="1.2"/><circle cx="1547.8" cy="728.9" r="8.2" fill="url(#gZn)" stroke="#44307e" stroke-width="1.2"/><circle cx="1564.0" cy="726.7" r="8.2" fill="url(#gZn)" stroke="#44307e" stroke-width="1.2"/><circle cx="1580.2" cy="724.5" r="8.2" fill="url(#gZn)" stroke="#44307e" stroke-width="1.2"/><circle cx="1562.5" cy="706.8" r="4.5" fill="#d83040"/><circle cx="1565.5" cy="710.8" r="2" fill="#ffdddd"/>
<circle cx="1864.6" cy="689.6" r="8" fill="#5a4098"/><circle cx="1882.1" cy="691.9" r="8" fill="#5a4098"/><circle cx="1899.6" cy="694.2" r="8" fill="#5a4098"/><circle cx="1854.2" cy="704.0" r="8" fill="#5a4098"/><circle cx="1871.8" cy="706.3" r="8" fill="#5a4098"/><circle cx="1889.2" cy="708.6" r="8" fill="#5a4098"/><circle cx="1843.8" cy="718.4" r="8" fill="#5a4098"/><circle cx="1861.3" cy="720.7" r="8" fill="#5a4098"/><circle cx="1878.8" cy="723.0" r="8" fill="#5a4098"/><circle cx="1861.1" cy="681.2" r="8.2" fill="url(#gZn)" stroke="#44307e" stroke-width="1.2"/><circle cx="1878.6" cy="683.5" r="8.2" fill="url(#gZn)" stroke="#44307e" stroke-width="1.2"/><circle cx="1896.1" cy="685.8" r="8.2" fill="url(#gZn)" stroke="#44307e" stroke-width="1.2"/><circle cx="1913.6" cy="688.1" r="8.2" fill="url(#gZn)" stroke="#44307e" stroke-width="1.2"/><circle cx="1850.7" cy="695.6" r="8.2" fill="url(#gZn)" stroke="#44307e" stroke-width="1.2"/><circle cx="1868.2" cy="697.9" r="8.2" fill="url(#gZn)" stroke="#44307e" stroke-width="1.2"/><circle cx="1885.7" cy="700.2" r="8.2" fill="url(#gZn)" stroke="#44307e" stroke-width="1.2"/><circle cx="1903.2" cy="702.5" r="8.2" fill="url(#gZn)" stroke="#44307e" stroke-width="1.2"/><circle cx="1840.3" cy="710.0" r="8.2" fill="url(#gZn)" stroke="#44307e" stroke-width="1.2"/><circle cx="1857.8" cy="712.3" r="8.2" fill="url(#gZn)" stroke="#44307e" stroke-width="1.2"/><circle cx="1875.3" cy="714.6" r="8.2" fill="url(#gZn)" stroke="#44307e" stroke-width="1.2"/><circle cx="1892.8" cy="716.9" r="8.2" fill="url(#gZn)" stroke="#44307e" stroke-width="1.2"/><circle cx="1829.9" cy="724.4" r="8.2" fill="url(#gZn)" stroke="#44307e" stroke-width="1.2"/><circle cx="1847.4" cy="726.7" r="8.2" fill="url(#gZn)" stroke="#44307e" stroke-width="1.2"/><circle cx="1864.9" cy="729.0" r="8.2" fill="url(#gZn)" stroke="#44307e" stroke-width="1.2"/><circle cx="1882.4" cy="731.3" r="8.2" fill="url(#gZn)" stroke="#44307e" stroke-width="1.2"/><circle cx="1880.3" cy="693.3" r="4.5" fill="#d83040"/><circle cx="1883.3" cy="697.3" r="2" fill="#ffdddd"/>
<circle cx="1305.0" cy="797" r="8.5" fill="#5a4098"/>
<circle cx="1320.6" cy="797" r="8.5" fill="#5a4098"/>
<circle cx="1336.2" cy="797" r="8.5" fill="#5a4098"/>
<circle cx="1351.8" cy="797" r="8.5" fill="#5a4098"/>
<circle cx="1367.4" cy="797" r="8.5" fill="#5a4098"/>
<circle cx="1383.0" cy="797" r="8.5" fill="#5a4098"/>
<circle cx="1938.0" cy="797" r="8.5" fill="#5a4098"/>
<circle cx="1952.4" cy="797" r="8.5" fill="#5a4098"/>
<circle cx="1966.8" cy="797" r="8.5" fill="#5a4098"/>
<circle cx="1981.2" cy="797" r="8.5" fill="#5a4098"/>
<circle cx="1995.6" cy="797" r="8.5" fill="#5a4098"/>
<circle cx="2010.0" cy="797" r="8.5" fill="#5a4098"/>
<circle cx="1297.3" cy="800.5" r="8.2" fill="url(#gZn)" stroke="#44307e" stroke-width="1.2"/>
<circle cx="1312.9" cy="800.5" r="8.2" fill="url(#gZn)" stroke="#44307e" stroke-width="1.2"/>
<circle cx="1328.5" cy="800.5" r="8.2" fill="url(#gZn)" stroke="#44307e" stroke-width="1.2"/>
<circle cx="1344.1" cy="802.5" r="8.2" fill="url(#gZn)" stroke="#44307e" stroke-width="1.2"/>
<circle cx="1359.7" cy="800.5" r="8.2" fill="url(#gZn)" stroke="#44307e" stroke-width="1.2"/>
<circle cx="1375.3" cy="800.5" r="8.2" fill="url(#gZn)" stroke="#44307e" stroke-width="1.2"/>
<circle cx="1390.9" cy="800.5" r="8.2" fill="url(#gZn)" stroke="#44307e" stroke-width="1.2"/>
<line x1="1341.4" y1="771" x2="1341.4" y2="784" stroke="#c83040" stroke-width="4"/><circle cx="1331.4" cy="764" r="4" fill="#f0e0d8" opacity="0.9"/><circle cx="1333.4" cy="768" r="4.5" fill="#5a4a3a" stroke="#d8c0b0" stroke-width="1.5"/><circle cx="1351.4" cy="764" r="4" fill="#f0e0d8" opacity="0.9"/><circle cx="1349.4" cy="768" r="4.5" fill="#5a4a3a" stroke="#d8c0b0" stroke-width="1.5"/><circle cx="1341.4" cy="771" r="5.5" fill="url(#gS)"/><circle cx="1341.4" cy="784" r="4.5" fill="url(#gOr)"/>
<circle cx="1616.0" cy="800.0" r="8.5" fill="url(#gZn)" stroke="#44307e" stroke-width="1.2"/>
<circle cx="1633.5" cy="800.0" r="8.5" fill="url(#gZn)" stroke="#44307e" stroke-width="1.2"/>
<circle cx="1651.0" cy="800.0" r="8.5" fill="url(#gZn)" stroke="#44307e" stroke-width="1.2"/>
<circle cx="1668.5" cy="800.0" r="8.5" fill="url(#gZn)" stroke="#44307e" stroke-width="1.2"/>
<circle cx="1686.0" cy="800.0" r="8.5" fill="url(#gZn)" stroke="#44307e" stroke-width="1.2"/>
<circle cx="1703.5" cy="800.0" r="8.5" fill="url(#gZn)" stroke="#44307e" stroke-width="1.2"/>
<circle cx="1641.4" cy="804.0" r="8.5" fill="url(#gZn)" stroke="#44307e" stroke-width="1.2"/>
<circle cx="1661.8" cy="804.0" r="8.5" fill="url(#gZn)" stroke="#44307e" stroke-width="1.2"/>
<circle cx="1682.2" cy="804.0" r="8.5" fill="url(#gZn)" stroke="#44307e" stroke-width="1.2"/>
<circle cx="1702.6" cy="804.0" r="8.5" fill="url(#gZn)" stroke="#44307e" stroke-width="1.2"/>
<line x1="1669" y1="763" x2="1669" y2="776" stroke="#c83040" stroke-width="4"/><circle cx="1659.0" cy="756" r="4" fill="#f0e0d8" opacity="0.9"/><circle cx="1661.0" cy="760" r="4.5" fill="#5a4a3a" stroke="#d8c0b0" stroke-width="1.5"/><circle cx="1679.0" cy="756" r="4" fill="#f0e0d8" opacity="0.9"/><circle cx="1677.0" cy="760" r="4.5" fill="#5a4a3a" stroke="#d8c0b0" stroke-width="1.5"/><circle cx="1669" cy="763" r="5.5" fill="url(#gS)"/><circle cx="1669" cy="776" r="4.5" fill="url(#gOr)"/>
<circle cx="1930.7" cy="800.5" r="8.5" fill="url(#gZn)" stroke="#44307e" stroke-width="1.2"/>
<circle cx="1945.1" cy="800.5" r="8.5" fill="url(#gZn)" stroke="#44307e" stroke-width="1.2"/>
<circle cx="1959.5" cy="800.5" r="8.5" fill="url(#gZn)" stroke="#44307e" stroke-width="1.2"/>
<circle cx="1973.9" cy="800.5" r="8.5" fill="url(#gZn)" stroke="#44307e" stroke-width="1.2"/>
<circle cx="1988.3" cy="800.5" r="8.5" fill="url(#gZn)" stroke="#44307e" stroke-width="1.2"/>
<circle cx="2002.7" cy="800.5" r="8.5" fill="url(#gZn)" stroke="#44307e" stroke-width="1.2"/>
<circle cx="2017.1" cy="800.5" r="8.5" fill="url(#gZn)" stroke="#44307e" stroke-width="1.2"/>
<line x1="1965.5" y1="768" x2="1965.5" y2="781" stroke="#c83040" stroke-width="4"/><circle cx="1955.5" cy="761" r="4" fill="#f0e0d8" opacity="0.9"/><circle cx="1957.5" cy="765" r="4.5" fill="#5a4a3a" stroke="#d8c0b0" stroke-width="1.5"/><circle cx="1975.5" cy="761" r="4" fill="#f0e0d8" opacity="0.9"/><circle cx="1973.5" cy="765" r="4.5" fill="#5a4a3a" stroke="#d8c0b0" stroke-width="1.5"/><circle cx="1965.5" cy="768" r="5.5" fill="url(#gS)"/><circle cx="1965.5" cy="781" r="4.5" fill="url(#gOr)"/>
<path d="M1173.3 500.6 H2093 V865.2 H1173.3 Z" fill="none" stroke="#333333" stroke-width="2.4"/>
<line x1="1166.3" y1="500.6" x2="1173.3" y2="500.6" stroke="#333333" stroke-width="2.4"/>
<text x="1151.25" y="510.40" textLength="14.20" lengthAdjust="spacingAndGlyphs" fill="#231f20"><tspan font-size="26.6">0</tspan></text>
<line x1="1166.3" y1="591.8" x2="1173.3" y2="591.8" stroke="#333333" stroke-width="2.4"/>
<text x="1122.13" y="601.55" textLength="43.32" lengthAdjust="spacingAndGlyphs" fill="#231f20"><tspan font-size="26.6">−50</tspan></text>
<line x1="1166.3" y1="682.9" x2="1173.3" y2="682.9" stroke="#333333" stroke-width="2.4"/>
<text x="1107.93" y="692.70" textLength="57.52" lengthAdjust="spacingAndGlyphs" fill="#231f20"><tspan font-size="26.6">−100</tspan></text>
<line x1="1166.3" y1="774.1" x2="1173.3" y2="774.1" stroke="#333333" stroke-width="2.4"/>
<text x="1107.93" y="783.85" textLength="57.52" lengthAdjust="spacingAndGlyphs" fill="#231f20"><tspan font-size="26.6">−150</tspan></text>
<line x1="1166.3" y1="865.2" x2="1173.3" y2="865.2" stroke="#333333" stroke-width="2.4"/>
<text x="1107.93" y="875.00" textLength="57.52" lengthAdjust="spacingAndGlyphs" fill="#231f20"><tspan font-size="26.6">−200</tspan></text>
<line x1="1326.5" y1="865.2" x2="1326.5" y2="872.2" stroke="#333333" stroke-width="2.4"/>
<line x1="1632.5" y1="865.2" x2="1632.5" y2="872.2" stroke="#333333" stroke-width="2.4"/>
<line x1="1939.5" y1="865.2" x2="1939.5" y2="872.2" stroke="#333333" stroke-width="2.4"/>
<text x="1279.79" y="912.80" textLength="98.55" lengthAdjust="spacingAndGlyphs" fill="#231f20"><tspan font-size="30.2">Hollow</tspan></text>
<text x="1606.88" y="912.80" textLength="52.50" lengthAdjust="spacingAndGlyphs" fill="#231f20"><tspan font-size="30.2">Top</tspan></text>
<text x="1895.49" y="912.80" textLength="95.24" lengthAdjust="spacingAndGlyphs" fill="#231f20"><tspan font-size="30.2">Bridge</tspan></text>
<rect x="1179" y="830.5" width="38.5" height="23" fill="url(#gPink)"/>
<text x="1220.96" y="848.20" textLength="122.94" lengthAdjust="spacingAndGlyphs" fill="#e07ab4"><tspan font-size="21">Zn(002)-H</tspan><tspan font-size="13.02" dy="4.62">2</tspan><tspan font-size="21" dy="-4.62">O</tspan></text>
<rect x="1366" y="830.5" width="38.5" height="23" fill="url(#gCyan)"/>
<text x="1408.66" y="848.20" textLength="147.64" lengthAdjust="spacingAndGlyphs" fill="#6cc8e2"><tspan font-size="21">Zn(002)-DMSO</tspan></text>
<text x="-0.45" y="0.00" textLength="229.71" lengthAdjust="spacingAndGlyphs" fill="#231f20" transform="translate(1098.3,796) rotate(-90)"><tspan font-size="25.8" font-style="italic">E</tspan><tspan font-size="17.03" dy="5.16">Adsorption</tspan><tspan font-size="25.8" dy="-5.16">/(kJ·mol</tspan><tspan font-size="15.48" dy="-9.29">−1</tspan><tspan font-size="25.8" dy="9.29">)</tspan></text>
</g>
<g id="pe">
<path d="M1169.5 996 V1047 H1369.3" fill="none" stroke="#4f9a7c" stroke-width="1.8"/>
<polyline points="147.3,997.0 151.4,997.0 155.4,997.5 159.5,997.5 163.6,997.3 167.7,997.0 171.7,997.5 175.8,996.7 179.9,997.1 184.0,997.2 188.0,997.8 192.1,997.4 196.2,997.7 200.3,997.1 204.3,996.8 208.4,996.8 212.5,997.7 216.5,997.3 220.6,996.8 224.7,996.5 228.8,997.0 232.8,997.2 236.9,996.9 241.0,996.6 245.1,997.1 249.1,997.4 253.2,996.5 257.3,996.3 261.4,996.6 265.4,996.7 269.5,997.0 273.6,996.4 277.6,997.1 281.7,997.0 285.8,996.7 289.9,996.3 293.9,997.2 298.0,996.3 302.1,996.9 306.2,996.2 310.2,996.2 314.3,996.8 318.4,996.2 322.5,997.0 326.5,996.4 330.6,996.0 334.7,996.0 338.7,996.2 342.8,996.5 346.9,996.8 351.0,995.8 355.0,996.1 359.1,995.9 363.2,996.7 367.3,995.7 371.3,995.6 375.4,995.6 379.5,995.9 383.6,996.5 387.6,996.5 391.7,996.3 395.8,996.6 399.8,996.5 403.9,995.7 408.0,995.5 412.1,996.4 416.1,996.1 420.2,995.3 424.3,996.0 428.4,995.6 432.4,995.6 436.5,995.5 440.6,995.3 444.7,995.1 448.7,995.4 452.8,995.4 456.9,996.1 460.9,995.1 465.0,996.1 469.1,995.2 473.2,995.3 477.2,995.9 481.3,995.8 485.4,995.3 489.5,994.9 493.5,995.3 497.6,995.2 501.7,995.8 505.8,994.9 509.8,995.1 513.9,995.7 518.0,994.7 522.0,995.1 526.1,995.5 530.2,995.5 534.3,994.6 538.3,994.5 542.4,994.6 546.5,995.6 550.6,994.7 554.6,995.3 558.7,995.5 562.8,994.8 566.9,994.7 570.9,995.5 575.0,995.1 579.1,994.7 583.1,995.3 587.2,994.8 591.3,994.7 595.4,994.4 599.4,995.3 603.5,995.5 607.6,995.2 611.7,995.5 615.7,994.4 619.8,994.7 623.9,995.0 628.0,995.5 632.0,995.5 636.1,994.9 640.2,994.7 644.2,994.9 648.3,995.0 652.4,995.5 656.5,994.6 660.5,995.4 664.6,995.3 668.7,995.4 672.8,995.3 676.8,995.1 680.9,994.8 685.0,994.8 689.1,994.8 693.1,995.3 697.2,994.5 701.3,994.6 705.3,995.3 709.4,994.7 713.5,994.5 717.6,994.4 721.6,995.1 725.7,994.8 729.8,995.6 733.9,995.5 737.9,995.6 742.0,994.7 746.1,994.5 750.2,994.5 754.2,995.0 758.3,995.3 762.4,994.9 766.4,994.7 770.5,994.9 774.6,995.1 778.7,995.2 782.7,995.3 786.8,995.4 790.9,995.2 795.0,994.5 799.0,995.4 803.1,994.8 807.2,995.1 811.3,994.8 815.3,995.3 819.4,994.6 823.5,994.7 827.5,994.7 831.6,994.6 835.7,995.5 839.8,995.1 843.8,994.8 847.9,994.9 852.0,995.6 856.1,995.0 860.1,994.7 864.2,995.4 868.3,995.2 872.4,995.6 876.4,994.5 880.5,995.0 884.6,995.4 888.6,995.4 892.7,995.5 896.8,994.4 900.9,994.8 904.9,994.5 909.0,994.6 913.1,995.6 917.2,995.1 921.2,995.5 925.3,994.8 929.4,995.4 933.5,994.9 937.5,994.7 941.6,995.3 945.7,995.5 949.7,994.5 953.8,995.1 957.9,995.1 962.0,994.7 966.0,994.8 970.1,994.6 974.2,994.6 978.3,994.7 982.3,995.1 986.4,995.2 990.5,994.6 994.6,994.4 998.6,994.8 1002.7,995.2 1006.8,994.6 1010.8,994.8 1014.9,994.6 1019.0,995.4 1023.1,995.1 1027.1,994.5 1031.2,994.5 1035.3,994.9 1039.4,995.1 1043.4,995.2 1047.5,994.5 1051.6,994.6 1055.7,995.2 1059.7,994.9 1063.8,994.7 1067.9,994.8 1071.9,995.5 1076.0,994.8 1080.1,995.1 1084.2,994.8 1088.2,994.9 1092.3,995.4 1096.4,995.6 1100.5,994.8 1104.5,994.6 1108.6,995.3 1112.7,994.6 1116.8,994.4 1120.8,995.5 1124.9,994.9 1129.0,995.4 1133.0,994.9 1137.1,995.5 1141.2,995.0 1145.3,994.6 1149.3,994.4 1153.4,995.1 1157.5,995.2 1161.6,995.5 1165.6,994.5 1169.7,995.1 1173.8,994.8 1177.9,995.0 1181.9,994.6 1186.0,994.7 1190.1,995.0 1194.1,995.5 1198.2,994.5 1202.3,995.0 1206.4,995.4 1210.4,995.6 1214.5,994.6 1218.6,994.6 1222.7,995.5 1226.7,995.6 1230.8,995.0 1234.9,994.5 1239.0,995.5 1243.0,994.9 1247.1,995.5 1251.2,995.1 1255.2,995.4 1259.3,994.6 1263.4,995.3 1267.5,994.7 1271.5,994.9 1275.6,995.4 1279.7,995.4 1283.8,994.6 1287.8,994.7 1291.9,994.9 1296.0,995.0 1300.1,994.9 1304.1,994.5 1308.2,994.7 1312.3,995.3 1316.3,995.5 1320.4,994.4 1324.5,995.1 1328.6,995.3 1332.6,994.4 1336.7,995.4 1340.8,994.5 1344.9,995.1 1348.9,995.1 1353.0,995.2 1357.1,994.8 1361.2,994.9 1365.2,995.1 1369.3,994.9" fill="none" stroke="#bfeedd" stroke-width="11.5" stroke-linejoin="round"/>
<polyline points="147.3,997.0 151.4,997.0 155.4,997.5 159.5,997.5 163.6,997.3 167.7,997.0 171.7,997.5 175.8,996.7 179.9,997.1 184.0,997.2 188.0,997.8 192.1,997.4 196.2,997.7 200.3,997.1 204.3,996.8 208.4,996.8 212.5,997.7 216.5,997.3 220.6,996.8 224.7,996.5 228.8,997.0 232.8,997.2 236.9,996.9 241.0,996.6 245.1,997.1 249.1,997.4 253.2,996.5 257.3,996.3 261.4,996.6 265.4,996.7 269.5,997.0 273.6,996.4 277.6,997.1 281.7,997.0 285.8,996.7 289.9,996.3 293.9,997.2 298.0,996.3 302.1,996.9 306.2,996.2 310.2,996.2 314.3,996.8 318.4,996.2 322.5,997.0 326.5,996.4 330.6,996.0 334.7,996.0 338.7,996.2 342.8,996.5 346.9,996.8 351.0,995.8 355.0,996.1 359.1,995.9 363.2,996.7 367.3,995.7 371.3,995.6 375.4,995.6 379.5,995.9 383.6,996.5 387.6,996.5 391.7,996.3 395.8,996.6 399.8,996.5 403.9,995.7 408.0,995.5 412.1,996.4 416.1,996.1 420.2,995.3 424.3,996.0 428.4,995.6 432.4,995.6 436.5,995.5 440.6,995.3 444.7,995.1 448.7,995.4 452.8,995.4 456.9,996.1 460.9,995.1 465.0,996.1 469.1,995.2 473.2,995.3 477.2,995.9 481.3,995.8 485.4,995.3 489.5,994.9 493.5,995.3 497.6,995.2 501.7,995.8 505.8,994.9 509.8,995.1 513.9,995.7 518.0,994.7 522.0,995.1 526.1,995.5 530.2,995.5 534.3,994.6 538.3,994.5 542.4,994.6 546.5,995.6 550.6,994.7 554.6,995.3 558.7,995.5 562.8,994.8 566.9,994.7 570.9,995.5 575.0,995.1 579.1,994.7 583.1,995.3 587.2,994.8 591.3,994.7 595.4,994.4 599.4,995.3 603.5,995.5 607.6,995.2 611.7,995.5 615.7,994.4 619.8,994.7 623.9,995.0 628.0,995.5 632.0,995.5 636.1,994.9 640.2,994.7 644.2,994.9 648.3,995.0 652.4,995.5 656.5,994.6 660.5,995.4 664.6,995.3 668.7,995.4 672.8,995.3 676.8,995.1 680.9,994.8 685.0,994.8 689.1,994.8 693.1,995.3 697.2,994.5 701.3,994.6 705.3,995.3 709.4,994.7 713.5,994.5 717.6,994.4 721.6,995.1 725.7,994.8 729.8,995.6 733.9,995.5 737.9,995.6 742.0,994.7 746.1,994.5 750.2,994.5 754.2,995.0 758.3,995.3 762.4,994.9 766.4,994.7 770.5,994.9 774.6,995.1 778.7,995.2 782.7,995.3 786.8,995.4 790.9,995.2 795.0,994.5 799.0,995.4 803.1,994.8 807.2,995.1 811.3,994.8 815.3,995.3 819.4,994.6 823.5,994.7 827.5,994.7 831.6,994.6 835.7,995.5 839.8,995.1 843.8,994.8 847.9,994.9 852.0,995.6 856.1,995.0 860.1,994.7 864.2,995.4 868.3,995.2 872.4,995.6 876.4,994.5 880.5,995.0 884.6,995.4 888.6,995.4 892.7,995.5 896.8,994.4 900.9,994.8 904.9,994.5 909.0,994.6 913.1,995.6 917.2,995.1 921.2,995.5 925.3,994.8 929.4,995.4 933.5,994.9 937.5,994.7 941.6,995.3 945.7,995.5 949.7,994.5 953.8,995.1 957.9,995.1 962.0,994.7 966.0,994.8 970.1,994.6 974.2,994.6 978.3,994.7 982.3,995.1 986.4,995.2 990.5,994.6 994.6,994.4 998.6,994.8 1002.7,995.2 1006.8,994.6 1010.8,994.8 1014.9,994.6 1019.0,995.4 1023.1,995.1 1027.1,994.5 1031.2,994.5 1035.3,994.9 1039.4,995.1 1043.4,995.2 1047.5,994.5 1051.6,994.6 1055.7,995.2 1059.7,994.9 1063.8,994.7 1067.9,994.8 1071.9,995.5 1076.0,994.8 1080.1,995.1 1084.2,994.8 1088.2,994.9 1092.3,995.4 1096.4,995.6 1100.5,994.8 1104.5,994.6 1108.6,995.3 1112.7,994.6 1116.8,994.4 1120.8,995.5 1124.9,994.9 1129.0,995.4 1133.0,994.9 1137.1,995.5 1141.2,995.0 1145.3,994.6 1149.3,994.4 1153.4,995.1 1157.5,995.2 1161.6,995.5 1165.6,994.5 1169.7,995.1 1173.8,994.8 1177.9,995.0 1181.9,994.6 1186.0,994.7 1190.1,995.0 1194.1,995.5 1198.2,994.5 1202.3,995.0 1206.4,995.4 1210.4,995.6 1214.5,994.6 1218.6,994.6 1222.7,995.5 1226.7,995.6 1230.8,995.0 1234.9,994.5 1239.0,995.5 1243.0,994.9 1247.1,995.5 1251.2,995.1 1255.2,995.4 1259.3,994.6 1263.4,995.3 1267.5,994.7 1271.5,994.9 1275.6,995.4 1279.7,995.4 1283.8,994.6 1287.8,994.7 1291.9,994.9 1296.0,995.0 1300.1,994.9 1304.1,994.5 1308.2,994.7 1312.3,995.3 1316.3,995.5 1320.4,994.4 1324.5,995.1 1328.6,995.3 1332.6,994.4 1336.7,995.4 1340.8,994.5 1344.9,995.1 1348.9,995.1 1353.0,995.2 1357.1,994.8 1361.2,994.9 1365.2,995.1 1369.3,994.9" fill="none" stroke="#3aa174" stroke-width="7.8" stroke-linejoin="round"/>
<line x1="203.5" y1="990" x2="203.5" y2="1002" stroke="#2f9a6e" stroke-width="3"/>
<line x1="210.9" y1="990" x2="210.9" y2="1002" stroke="#2f9a6e" stroke-width="3"/>
<line x1="283.2" y1="991" x2="283.2" y2="1001" stroke="#2f9a6e" stroke-width="3"/>
<line x1="320.1" y1="989" x2="320.1" y2="1003" stroke="#2f9a6e" stroke-width="3"/>
<line x1="362.9" y1="990" x2="362.9" y2="1002" stroke="#2f9a6e" stroke-width="3"/>
<line x1="630" y1="991" x2="630" y2="1001" stroke="#2f9a6e" stroke-width="3"/>
<line x1="701" y1="991" x2="701" y2="1001" stroke="#2f9a6e" stroke-width="3"/>
<line x1="739.4" y1="985" x2="739.4" y2="1007" stroke="#2f9a6e" stroke-width="4.5"/>
<line x1="856" y1="983" x2="856" y2="1009" stroke="#2f9a6e" stroke-width="4.5"/>
<line x1="863.3" y1="985" x2="863.3" y2="1007" stroke="#2f9a6e" stroke-width="4.5"/>
<line x1="909" y1="982" x2="909" y2="1010" stroke="#2f9a6e" stroke-width="4.5"/>
<line x1="1176.3" y1="989" x2="1176.3" y2="1003" stroke="#2f9a6e" stroke-width="3"/>
<line x1="1269.3" y1="979" x2="1269.3" y2="1013" stroke="#2f9a6e" stroke-width="4.5"/>
<line x1="1281.1" y1="982" x2="1281.1" y2="1010" stroke="#2f9a6e" stroke-width="4.5"/>
<line x1="1307.7" y1="989" x2="1307.7" y2="1003" stroke="#2f9a6e" stroke-width="3"/>
<ellipse cx="909" cy="996" rx="6" ry="9" fill="#2f9a6e"/>
<ellipse cx="859.5" cy="996" rx="6" ry="6" fill="#2f9a6e"/>
<ellipse cx="1275" cy="996" rx="9" ry="7" fill="#2f9a6e"/>
<circle cx="148.5" cy="1081" r="2" fill="#2f9a6e" opacity="0.6"/>
<polyline points="147.3,1132.9 151.4,1133.3 155.4,1134.0 159.5,1134.2 163.6,1135.7 167.7,1136.3 171.7,1136.6 175.8,1137.3 179.9,1137.3 184.0,1136.8 188.0,1136.4 192.1,1136.8 196.2,1136.3 200.3,1136.3 204.3,1136.7 208.4,1136.2 212.5,1136.6 216.5,1136.7 220.6,1136.0 224.7,1136.8 228.8,1136.0 232.8,1136.9 236.9,1136.9 241.0,1136.5 245.1,1135.8 249.1,1136.4 253.2,1136.2 257.3,1137.0 261.4,1135.8 265.4,1136.8 269.5,1137.0 273.6,1136.6 277.6,1136.6 281.7,1135.7 285.8,1136.8 289.9,1136.1 293.9,1136.7 298.0,1136.6 302.1,1135.5 306.2,1136.4 310.2,1136.6 314.3,1135.3 318.4,1135.7 322.5,1136.2 326.5,1135.4 330.6,1136.4 334.7,1135.5 338.7,1136.2 342.8,1135.2 346.9,1135.7 351.0,1136.2 355.0,1135.2 359.1,1135.3 363.2,1135.6 367.3,1135.3 371.3,1134.8 375.4,1135.0 379.5,1135.0 383.6,1136.0 387.6,1135.6 391.7,1135.9 395.8,1134.8 399.8,1135.7 403.9,1134.7 408.0,1135.3 412.1,1135.4 416.1,1135.0 420.2,1135.6 424.3,1135.2 428.4,1135.2 432.4,1135.6 436.5,1134.5 440.6,1135.7 444.7,1135.1 448.7,1134.8 452.8,1135.3 456.9,1134.5 460.9,1135.5 465.0,1134.9 469.1,1134.6 473.2,1135.1 477.2,1134.6 481.3,1134.2 485.4,1135.0 489.5,1134.0 493.5,1135.0 497.6,1134.2 501.7,1134.7 505.8,1135.2 509.8,1134.6 513.9,1134.7 518.0,1134.1 522.0,1133.7 526.1,1133.7 530.2,1133.8 534.3,1134.4 538.3,1134.1 542.4,1134.2 546.5,1134.7 550.6,1133.6 554.6,1133.7 558.7,1134.3 562.8,1133.4 566.9,1133.3 570.9,1133.8 575.0,1133.4 579.1,1133.7 583.1,1133.5 587.2,1134.0 591.3,1134.0 595.4,1133.4 599.4,1133.9 603.5,1133.7 607.6,1133.2 611.7,1134.3 615.7,1133.3 619.8,1133.1 623.9,1133.0 628.0,1133.8 632.0,1134.1 636.1,1133.9 640.2,1133.3 644.2,1133.0 648.3,1132.6 652.4,1133.4 656.5,1133.2 660.5,1132.8 664.6,1133.1 668.7,1132.7 672.8,1133.3 676.8,1133.0 680.9,1132.2 685.0,1133.0 689.1,1131.7 693.1,1132.3 697.2,1132.1 701.3,1131.8 705.3,1131.4 709.4,1132.3 713.5,1131.2 717.6,1131.8 721.6,1132.3 725.7,1131.1 729.8,1131.1 733.9,1131.6 737.9,1131.4 742.0,1131.5 746.1,1131.6 750.2,1130.6 754.2,1130.7 758.3,1130.6 762.4,1130.2 766.4,1131.3 770.5,1131.0 774.6,1130.9 778.7,1129.8 782.7,1130.9 786.8,1130.6 790.9,1130.2 795.0,1130.5 799.0,1130.0 803.1,1129.6 807.2,1129.3 811.3,1129.4 815.3,1129.1 819.4,1129.4 823.5,1129.9 827.5,1129.7 831.6,1129.8 835.7,1129.6 839.8,1128.9 843.8,1129.2 847.9,1128.9 852.0,1129.3 856.1,1128.9 860.1,1128.4 864.2,1128.9 868.3,1129.2 872.4,1128.1 876.4,1128.9 880.5,1127.6 884.6,1127.9 888.6,1127.8 892.7,1128.4 896.8,1128.6 900.9,1128.2 904.9,1127.6 909.0,1128.2 913.1,1127.4 917.2,1127.2 921.2,1128.0 925.3,1127.6 929.4,1127.6 933.5,1127.4 937.5,1127.8 941.6,1127.0 945.7,1127.4 949.7,1127.1 953.8,1127.3 957.9,1126.6 962.0,1126.9 966.0,1126.6 970.1,1126.1 974.2,1125.9 978.3,1126.4 982.3,1125.6 986.4,1126.6 990.5,1125.5 994.6,1125.2 998.6,1125.3 1002.7,1126.3 1006.8,1125.4 1010.8,1125.1 1014.9,1124.8 1019.0,1124.7 1023.1,1125.6 1027.1,1125.4 1031.2,1125.4 1035.3,1125.4 1039.4,1124.3 1043.4,1125.0 1047.5,1124.6 1051.6,1125.1 1055.7,1125.1 1059.7,1125.1 1063.8,1123.8 1067.9,1124.9 1071.9,1124.8 1076.0,1124.8 1080.1,1123.5 1084.2,1123.6 1088.2,1123.5 1092.3,1123.3 1096.4,1124.5 1100.5,1124.4 1104.5,1124.2 1108.6,1124.5 1112.7,1124.2 1116.8,1123.7 1120.8,1123.4 1124.9,1123.4 1129.0,1124.4 1133.0,1123.6 1137.1,1123.7 1141.2,1123.9 1145.3,1123.3 1149.3,1123.7 1153.4,1123.7 1157.5,1124.3 1161.6,1123.8 1165.6,1123.7 1169.7,1124.6 1173.8,1124.0 1177.9,1124.5 1181.9,1124.2 1186.0,1123.3 1190.1,1123.9 1194.1,1123.9 1198.2,1124.4 1202.3,1123.8 1206.4,1124.3 1210.4,1124.1 1214.5,1123.6 1218.6,1124.5 1222.7,1123.4 1226.7,1124.4 1230.8,1123.5 1234.9,1123.3 1239.0,1123.6 1243.0,1124.4 1247.1,1124.7 1251.2,1123.5 1255.2,1124.3 1259.3,1124.4 1263.4,1125.0 1267.5,1124.3 1271.5,1124.9 1275.6,1124.8 1279.7,1125.7 1283.8,1125.0 1287.8,1126.1 1291.9,1125.3 1296.0,1125.4 1300.1,1126.2 1304.1,1126.1 1308.2,1125.7 1312.3,1126.6 1316.3,1126.0 1320.4,1127.1 1324.5,1127.1 1328.6,1127.4 1332.6,1127.3 1336.7,1127.1 1340.8,1127.3 1344.9,1127.5 1348.9,1128.3 1353.0,1127.3 1357.1,1128.6 1361.2,1127.5 1365.2,1127.9 1369.3,1128.2" fill="none" stroke="#f4b4bc" stroke-width="12" stroke-linejoin="round"/>
<polyline points="147.3,1132.9 151.4,1133.3 155.4,1134.0 159.5,1134.2 163.6,1135.7 167.7,1136.3 171.7,1136.6 175.8,1137.3 179.9,1137.3 184.0,1136.8 188.0,1136.4 192.1,1136.8 196.2,1136.3 200.3,1136.3 204.3,1136.7 208.4,1136.2 212.5,1136.6 216.5,1136.7 220.6,1136.0 224.7,1136.8 228.8,1136.0 232.8,1136.9 236.9,1136.9 241.0,1136.5 245.1,1135.8 249.1,1136.4 253.2,1136.2 257.3,1137.0 261.4,1135.8 265.4,1136.8 269.5,1137.0 273.6,1136.6 277.6,1136.6 281.7,1135.7 285.8,1136.8 289.9,1136.1 293.9,1136.7 298.0,1136.6 302.1,1135.5 306.2,1136.4 310.2,1136.6 314.3,1135.3 318.4,1135.7 322.5,1136.2 326.5,1135.4 330.6,1136.4 334.7,1135.5 338.7,1136.2 342.8,1135.2 346.9,1135.7 351.0,1136.2 355.0,1135.2 359.1,1135.3 363.2,1135.6 367.3,1135.3 371.3,1134.8 375.4,1135.0 379.5,1135.0 383.6,1136.0 387.6,1135.6 391.7,1135.9 395.8,1134.8 399.8,1135.7 403.9,1134.7 408.0,1135.3 412.1,1135.4 416.1,1135.0 420.2,1135.6 424.3,1135.2 428.4,1135.2 432.4,1135.6 436.5,1134.5 440.6,1135.7 444.7,1135.1 448.7,1134.8 452.8,1135.3 456.9,1134.5 460.9,1135.5 465.0,1134.9 469.1,1134.6 473.2,1135.1 477.2,1134.6 481.3,1134.2 485.4,1135.0 489.5,1134.0 493.5,1135.0 497.6,1134.2 501.7,1134.7 505.8,1135.2 509.8,1134.6 513.9,1134.7 518.0,1134.1 522.0,1133.7 526.1,1133.7 530.2,1133.8 534.3,1134.4 538.3,1134.1 542.4,1134.2 546.5,1134.7 550.6,1133.6 554.6,1133.7 558.7,1134.3 562.8,1133.4 566.9,1133.3 570.9,1133.8 575.0,1133.4 579.1,1133.7 583.1,1133.5 587.2,1134.0 591.3,1134.0 595.4,1133.4 599.4,1133.9 603.5,1133.7 607.6,1133.2 611.7,1134.3 615.7,1133.3 619.8,1133.1 623.9,1133.0 628.0,1133.8 632.0,1134.1 636.1,1133.9 640.2,1133.3 644.2,1133.0 648.3,1132.6 652.4,1133.4 656.5,1133.2 660.5,1132.8 664.6,1133.1 668.7,1132.7 672.8,1133.3 676.8,1133.0 680.9,1132.2 685.0,1133.0 689.1,1131.7 693.1,1132.3 697.2,1132.1 701.3,1131.8 705.3,1131.4 709.4,1132.3 713.5,1131.2 717.6,1131.8 721.6,1132.3 725.7,1131.1 729.8,1131.1 733.9,1131.6 737.9,1131.4 742.0,1131.5 746.1,1131.6 750.2,1130.6 754.2,1130.7 758.3,1130.6 762.4,1130.2 766.4,1131.3 770.5,1131.0 774.6,1130.9 778.7,1129.8 782.7,1130.9 786.8,1130.6 790.9,1130.2 795.0,1130.5 799.0,1130.0 803.1,1129.6 807.2,1129.3 811.3,1129.4 815.3,1129.1 819.4,1129.4 823.5,1129.9 827.5,1129.7 831.6,1129.8 835.7,1129.6 839.8,1128.9 843.8,1129.2 847.9,1128.9 852.0,1129.3 856.1,1128.9 860.1,1128.4 864.2,1128.9 868.3,1129.2 872.4,1128.1 876.4,1128.9 880.5,1127.6 884.6,1127.9 888.6,1127.8 892.7,1128.4 896.8,1128.6 900.9,1128.2 904.9,1127.6 909.0,1128.2 913.1,1127.4 917.2,1127.2 921.2,1128.0 925.3,1127.6 929.4,1127.6 933.5,1127.4 937.5,1127.8 941.6,1127.0 945.7,1127.4 949.7,1127.1 953.8,1127.3 957.9,1126.6 962.0,1126.9 966.0,1126.6 970.1,1126.1 974.2,1125.9 978.3,1126.4 982.3,1125.6 986.4,1126.6 990.5,1125.5 994.6,1125.2 998.6,1125.3 1002.7,1126.3 1006.8,1125.4 1010.8,1125.1 1014.9,1124.8 1019.0,1124.7 1023.1,1125.6 1027.1,1125.4 1031.2,1125.4 1035.3,1125.4 1039.4,1124.3 1043.4,1125.0 1047.5,1124.6 1051.6,1125.1 1055.7,1125.1 1059.7,1125.1 1063.8,1123.8 1067.9,1124.9 1071.9,1124.8 1076.0,1124.8 1080.1,1123.5 1084.2,1123.6 1088.2,1123.5 1092.3,1123.3 1096.4,1124.5 1100.5,1124.4 1104.5,1124.2 1108.6,1124.5 1112.7,1124.2 1116.8,1123.7 1120.8,1123.4 1124.9,1123.4 1129.0,1124.4 1133.0,1123.6 1137.1,1123.7 1141.2,1123.9 1145.3,1123.3 1149.3,1123.7 1153.4,1123.7 1157.5,1124.3 1161.6,1123.8 1165.6,1123.7 1169.7,1124.6 1173.8,1124.0 1177.9,1124.5 1181.9,1124.2 1186.0,1123.3 1190.1,1123.9 1194.1,1123.9 1198.2,1124.4 1202.3,1123.8 1206.4,1124.3 1210.4,1124.1 1214.5,1123.6 1218.6,1124.5 1222.7,1123.4 1226.7,1124.4 1230.8,1123.5 1234.9,1123.3 1239.0,1123.6 1243.0,1124.4 1247.1,1124.7 1251.2,1123.5 1255.2,1124.3 1259.3,1124.4 1263.4,1125.0 1267.5,1124.3 1271.5,1124.9 1275.6,1124.8 1279.7,1125.7 1283.8,1125.0 1287.8,1126.1 1291.9,1125.3 1296.0,1125.4 1300.1,1126.2 1304.1,1126.1 1308.2,1125.7 1312.3,1126.6 1316.3,1126.0 1320.4,1127.1 1324.5,1127.1 1328.6,1127.4 1332.6,1127.3 1336.7,1127.1 1340.8,1127.3 1344.9,1127.5 1348.9,1128.3 1353.0,1127.3 1357.1,1128.6 1361.2,1127.5 1365.2,1127.9 1369.3,1128.2" fill="none" stroke="#dc2f3a" stroke-width="7.5" stroke-linejoin="round"/>
<line x1="211" y1="1128.1520826119893" x2="211" y2="1144.1520826119893" stroke="#dc2f3a" stroke-width="3"/>
<line x1="285" y1="1129.7422428560496" x2="285" y2="1141.7422428560496" stroke="#dc2f3a" stroke-width="3"/>
<line x1="300" y1="1130.6307033271694" x2="300" y2="1142.6307033271694" stroke="#dc2f3a" stroke-width="3"/>
<line x1="320" y1="1128.6859932002417" x2="320" y2="1142.6859932002417" stroke="#dc2f3a" stroke-width="3"/>
<line x1="363" y1="1128.2557340277322" x2="363" y2="1142.2557340277322" stroke="#dc2f3a" stroke-width="3"/>
<line x1="455" y1="1129.2983177951608" x2="455" y2="1141.2983177951608" stroke="#dc2f3a" stroke-width="3"/>
<line x1="505" y1="1127.7080908752173" x2="505" y2="1141.7080908752173" stroke="#dc2f3a" stroke-width="3"/>
<line x1="550" y1="1128.7291980273385" x2="550" y2="1140.7291980273385" stroke="#dc2f3a" stroke-width="3"/>
<line x1="632" y1="1125.7548976439325" x2="632" y2="1141.7548976439325" stroke="#dc2f3a" stroke-width="3"/>
<line x1="700" y1="1125.0729296687375" x2="700" y2="1139.0729296687375" stroke="#dc2f3a" stroke-width="3"/>
<line x1="740" y1="1125.3506365920825" x2="740" y2="1137.3506365920825" stroke="#dc2f3a" stroke-width="3"/>
<line x1="856" y1="1120.3265572964644" x2="856" y2="1138.3265572964644" stroke="#dc2f3a" stroke-width="3"/>
<line x1="862" y1="1121.421414743467" x2="862" y2="1135.421414743467" stroke="#dc2f3a" stroke-width="3"/>
<line x1="909" y1="1118.5576199551576" x2="909" y2="1136.5576199551576" stroke="#dc2f3a" stroke-width="3"/>
<line x1="925" y1="1120.025141206194" x2="925" y2="1136.025141206194" stroke="#dc2f3a" stroke-width="3"/>
<line x1="934" y1="1119.5517983261275" x2="934" y2="1135.5517983261275" stroke="#dc2f3a" stroke-width="3"/>
<line x1="1003" y1="1119.2629860938803" x2="1003" y2="1131.2629860938803" stroke="#dc2f3a" stroke-width="3"/>
<line x1="1020" y1="1118.740127397079" x2="1020" y2="1130.740127397079" stroke="#dc2f3a" stroke-width="3"/>
<line x1="1073" y1="1118.839263198967" x2="1073" y2="1130.839263198967" stroke="#dc2f3a" stroke-width="3"/>
<line x1="1176" y1="1117.0052322467157" x2="1176" y2="1131.0052322467157" stroke="#dc2f3a" stroke-width="3"/>
<line x1="1269" y1="1115.3083268817813" x2="1269" y2="1133.3083268817813" stroke="#dc2f3a" stroke-width="3"/>
<line x1="1281" y1="1117.6645701760144" x2="1281" y2="1133.6645701760144" stroke="#dc2f3a" stroke-width="3"/>
<circle cx="148.5" cy="1157" r="3" fill="#dc2f3a" opacity="0.6"/>
<path d="M147.3 1251.5 V945 H1369.3" fill="none" stroke="#3a3a3a" stroke-width="2.4"/>
<path d="M147.3 1251.5 H1369.3" fill="none" stroke="#3a3a3a" stroke-width="2.4"/>
<path d="M1369.3 945 V1251.5" fill="none" stroke="#3f9a78" stroke-width="2.4"/>
<line x1="141.3" y1="1251.5" x2="147.3" y2="1251.5" stroke="#3a3a3a" stroke-width="2.4"/>
<text x="126.34" y="1260.20" textLength="14.10" lengthAdjust="spacingAndGlyphs" fill="#231f20"><tspan font-size="26.5">0</tspan></text>
<line x1="141.3" y1="1207.7" x2="147.3" y2="1207.7" stroke="#3a3a3a" stroke-width="2.4"/>
<text x="112.23" y="1216.41" textLength="28.21" lengthAdjust="spacingAndGlyphs" fill="#231f20"><tspan font-size="26.5">50</tspan></text>
<line x1="141.3" y1="1163.9" x2="147.3" y2="1163.9" stroke="#3a3a3a" stroke-width="2.4"/>
<text x="98.13" y="1172.63" textLength="42.31" lengthAdjust="spacingAndGlyphs" fill="#231f20"><tspan font-size="26.5">100</tspan></text>
<line x1="141.3" y1="1120.1" x2="147.3" y2="1120.1" stroke="#3a3a3a" stroke-width="2.4"/>
<text x="98.13" y="1128.84" textLength="42.31" lengthAdjust="spacingAndGlyphs" fill="#231f20"><tspan font-size="26.5">150</tspan></text>
<line x1="141.3" y1="1076.4" x2="147.3" y2="1076.4" stroke="#3a3a3a" stroke-width="2.4"/>
<text x="98.13" y="1085.06" textLength="42.31" lengthAdjust="spacingAndGlyphs" fill="#231f20"><tspan font-size="26.5">200</tspan></text>
<line x1="141.3" y1="1032.6" x2="147.3" y2="1032.6" stroke="#3a3a3a" stroke-width="2.4"/>
<text x="98.13" y="1041.27" textLength="42.31" lengthAdjust="spacingAndGlyphs" fill="#231f20"><tspan font-size="26.5">250</tspan></text>
<line x1="141.3" y1="988.8" x2="147.3" y2="988.8" stroke="#3a3a3a" stroke-width="2.4"/>
<text x="98.13" y="997.49" textLength="42.31" lengthAdjust="spacingAndGlyphs" fill="#231f20"><tspan font-size="26.5">300</tspan></text>
<line x1="141.3" y1="945.0" x2="147.3" y2="945.0" stroke="#3a3a3a" stroke-width="2.4"/>
<text x="98.13" y="953.70" textLength="42.31" lengthAdjust="spacingAndGlyphs" fill="#231f20"><tspan font-size="26.5">350</tspan></text>
<line x1="1369.3" y1="1251.5" x2="1375.3" y2="1251.5" stroke="#3f9a78" stroke-width="2.4"/>
<text x="1377.91" y="1256.50" textLength="13.93" lengthAdjust="spacingAndGlyphs" fill="#2f9a6e"><tspan font-size="26.1">0</tspan></text>
<line x1="1369.3" y1="1200.4" x2="1375.3" y2="1200.4" stroke="#3f9a78" stroke-width="2.4"/>
<text x="1378.03" y="1205.42" textLength="27.87" lengthAdjust="spacingAndGlyphs" fill="#2f9a6e"><tspan font-size="26.1">20</tspan></text>
<line x1="1369.3" y1="1149.3" x2="1375.3" y2="1149.3" stroke="#3f9a78" stroke-width="2.4"/>
<text x="1378.52" y="1154.33" textLength="27.87" lengthAdjust="spacingAndGlyphs" fill="#2f9a6e"><tspan font-size="26.1">40</tspan></text>
<line x1="1369.3" y1="1098.2" x2="1375.3" y2="1098.2" stroke="#3f9a78" stroke-width="2.4"/>
<text x="1377.98" y="1103.25" textLength="27.87" lengthAdjust="spacingAndGlyphs" fill="#2f9a6e"><tspan font-size="26.1">60</tspan></text>
<line x1="1369.3" y1="1047.2" x2="1375.3" y2="1047.2" stroke="#3f9a78" stroke-width="2.4"/>
<text x="1378.10" y="1052.17" textLength="27.87" lengthAdjust="spacingAndGlyphs" fill="#2f9a6e"><tspan font-size="26.1">80</tspan></text>
<line x1="1369.3" y1="996.1" x2="1375.3" y2="996.1" stroke="#3f9a78" stroke-width="2.4"/>
<text x="1377.32" y="1001.08" textLength="41.80" lengthAdjust="spacingAndGlyphs" fill="#2f9a6e"><tspan font-size="26.1">100</tspan></text>
<line x1="1369.3" y1="945.0" x2="1375.3" y2="945.0" stroke="#3f9a78" stroke-width="2.4"/>
<text x="1377.32" y="950.00" textLength="41.80" lengthAdjust="spacingAndGlyphs" fill="#2f9a6e"><tspan font-size="26.1">120</tspan></text>
<line x1="147.3" y1="1251.5" x2="147.3" y2="1257.5" stroke="#3a3a3a" stroke-width="2.4"/>
<text x="137.55" y="1288.50" textLength="16.55" lengthAdjust="spacingAndGlyphs" fill="#231f20"><tspan font-size="31">0</tspan></text>
<line x1="351.0" y1="1251.5" x2="351.0" y2="1257.5" stroke="#3a3a3a" stroke-width="2.4"/>
<text x="324.79" y="1288.50" textLength="49.65" lengthAdjust="spacingAndGlyphs" fill="#231f20"><tspan font-size="31">500</tspan></text>
<line x1="554.6" y1="1251.5" x2="554.6" y2="1257.5" stroke="#3a3a3a" stroke-width="2.4"/>
<text x="515.57" y="1288.50" textLength="74.47" lengthAdjust="spacingAndGlyphs" fill="#231f20"><tspan font-size="31">1 000</tspan></text>
<line x1="758.3" y1="1251.5" x2="758.3" y2="1257.5" stroke="#3a3a3a" stroke-width="2.4"/>
<text x="719.24" y="1288.50" textLength="74.47" lengthAdjust="spacingAndGlyphs" fill="#231f20"><tspan font-size="31">1 500</tspan></text>
<line x1="962.0" y1="1251.5" x2="962.0" y2="1257.5" stroke="#3a3a3a" stroke-width="2.4"/>
<text x="923.32" y="1288.50" textLength="74.47" lengthAdjust="spacingAndGlyphs" fill="#231f20"><tspan font-size="31">2 000</tspan></text>
<line x1="1165.6" y1="1251.5" x2="1165.6" y2="1257.5" stroke="#3a3a3a" stroke-width="2.4"/>
<text x="1126.99" y="1288.50" textLength="74.47" lengthAdjust="spacingAndGlyphs" fill="#231f20"><tspan font-size="31">2 500</tspan></text>
<line x1="1369.3" y1="1251.5" x2="1369.3" y2="1257.5" stroke="#3a3a3a" stroke-width="2.4"/>
<text x="1330.83" y="1288.50" textLength="74.47" lengthAdjust="spacingAndGlyphs" fill="#231f20"><tspan font-size="31">3 000</tspan></text>
<text x="658.77" y="1330.90" textLength="197.58" lengthAdjust="spacingAndGlyphs" fill="#231f20"><tspan font-size="31">Cycle number</tspan></text>
<text x="844.14" y="1218.60" textLength="62.37" lengthAdjust="spacingAndGlyphs" fill="#231f20"><tspan font-size="31">10 C</tspan></text>
<circle cx="1258.3" cy="1208.6" r="3.5" fill="#dc2f3a"/>
<text x="1268.36" y="1216.40" textLength="94.25" lengthAdjust="spacingAndGlyphs" fill="#dc2f3a"><tspan font-size="22.8">20 DMSO</tspan></text>
<text x="-0.86" y="0.00" textLength="384.34" lengthAdjust="spacingAndGlyphs" fill="#231f20" transform="translate(80.8,1302) rotate(-90)"><tspan font-size="30">Specific capacity/(mAh·g</tspan><tspan font-size="18.0" dy="-10.8">−1</tspan><tspan font-size="30" dy="10.8">)</tspan></text>
<text x="-1.08" y="0.00" textLength="294.47" lengthAdjust="spacingAndGlyphs" fill="#2f9a6e" transform="translate(1437.7,1244) rotate(-90)"><tspan font-size="23">Coulombic efficiency/%</tspan></text>
</g>
<g id="pf">
<path d="M1928.7 975 V1020.5 H2024.5" fill="none" stroke="#4f9a7c" stroke-width="1.8"/>
<path d="M1527.5 981 C1531.5 975 1534.5 975 1542.5 975 H2030.5" fill="none" stroke="#2f9a6e" stroke-width="4"/>
<polyline points="1526.5,1148.5 1527.3,1150.2 1528.2,1151.8 1529.0,1153.2 1529.8,1154.5 1530.7,1155.8 1531.5,1156.9 1532.3,1158.0 1533.1,1159.0 1534.0,1159.9 1534.8,1160.8 1535.6,1161.6 1536.5,1162.4 1537.3,1163.1 1538.1,1163.7 1539.0,1164.3 1539.8,1164.9 1540.6,1165.4 1541.4,1165.9 1542.3,1166.3 1543.1,1166.8 1543.9,1167.2 1544.8,1167.6 1545.6,1167.9 1546.4,1168.2 1547.2,1168.5 1548.1,1168.8 1548.9,1169.1 1549.7,1169.4 1550.6,1169.6 1551.4,1169.8 1552.2,1170.0 1553.1,1170.2 1553.9,1170.4 1554.7,1170.6 1555.5,1170.8 1556.4,1170.9 1557.2,1171.1 1558.0,1171.2 1558.9,1171.4 1559.7,1171.5 1564.7,1172.2 1569.7,1172.7 1574.6,1173.2 1579.6,1173.5 1584.6,1173.9 1589.6,1174.2 1594.6,1174.5 1599.5,1174.8 1604.5,1175.1 1609.5,1175.3 1614.5,1175.6 1619.5,1175.9 1624.4,1176.1 1629.4,1176.3 1634.4,1176.6 1639.4,1176.8 1644.4,1177.1 1649.3,1177.3 1654.3,1177.5 1659.3,1177.7 1664.3,1177.9 1669.3,1178.2 1674.2,1178.4 1679.2,1178.6 1684.2,1178.8 1689.2,1179.0 1694.2,1179.2 1699.1,1179.3 1704.1,1179.5 1709.1,1179.7 1714.1,1179.9 1719.1,1180.1 1724.0,1180.2 1729.0,1180.4 1734.0,1180.6 1739.0,1180.8 1744.0,1180.9 1748.9,1181.1 1753.9,1181.2 1758.9,1181.4 1763.9,1181.5 1768.9,1181.7 1773.8,1181.8 1778.8,1182.0 1783.8,1182.1 1788.8,1182.3 1793.8,1182.4 1798.7,1182.5 1803.7,1182.7 1808.7,1182.8 1813.7,1182.9 1818.7,1183.0 1823.6,1183.2 1828.6,1183.3 1833.6,1183.4 1838.6,1183.5 1843.6,1183.6 1848.5,1183.7 1853.5,1183.9 1858.5,1184.0 1863.5,1184.1 1868.5,1184.2 1873.4,1184.3 1878.4,1184.4 1883.4,1184.5 1888.4,1184.6 1893.4,1184.7 1898.3,1184.8 1903.3,1184.9 1908.3,1184.9 1913.3,1185.0 1918.3,1185.1 1923.2,1185.2 1928.2,1185.3 1933.2,1185.4 1938.2,1185.5 1943.2,1185.5 1948.1,1185.6 1953.1,1185.7 1958.1,1185.8 1963.1,1185.8 1968.1,1185.9 1973.0,1186.0 1978.0,1186.1 1983.0,1186.1 1988.0,1186.2 1993.0,1186.3 1997.9,1186.3 2002.9,1186.4 2007.9,1186.5 2012.9,1186.5 2017.9,1186.6 2022.8,1186.6" fill="none" stroke="#f2a8b0" stroke-width="13" stroke-linejoin="round" stroke-linecap="round" opacity="0.8"/>
<polyline points="1526.5,1148.5 1527.3,1150.2 1528.2,1151.8 1529.0,1153.2 1529.8,1154.5 1530.7,1155.8 1531.5,1156.9 1532.3,1158.0 1533.1,1159.0 1534.0,1159.9 1534.8,1160.8 1535.6,1161.6 1536.5,1162.4 1537.3,1163.1 1538.1,1163.7 1539.0,1164.3 1539.8,1164.9 1540.6,1165.4 1541.4,1165.9 1542.3,1166.3 1543.1,1166.8 1543.9,1167.2 1544.8,1167.6 1545.6,1167.9 1546.4,1168.2 1547.2,1168.5 1548.1,1168.8 1548.9,1169.1 1549.7,1169.4 1550.6,1169.6 1551.4,1169.8 1552.2,1170.0 1553.1,1170.2 1553.9,1170.4 1554.7,1170.6 1555.5,1170.8 1556.4,1170.9 1557.2,1171.1 1558.0,1171.2 1558.9,1171.4 1559.7,1171.5 1564.7,1172.2 1569.7,1172.7 1574.6,1173.2 1579.6,1173.5 1584.6,1173.9 1589.6,1174.2 1594.6,1174.5 1599.5,1174.8 1604.5,1175.1 1609.5,1175.3 1614.5,1175.6 1619.5,1175.9 1624.4,1176.1 1629.4,1176.3 1634.4,1176.6 1639.4,1176.8 1644.4,1177.1 1649.3,1177.3 1654.3,1177.5 1659.3,1177.7 1664.3,1177.9 1669.3,1178.2 1674.2,1178.4 1679.2,1178.6 1684.2,1178.8 1689.2,1179.0 1694.2,1179.2 1699.1,1179.3 1704.1,1179.5 1709.1,1179.7 1714.1,1179.9 1719.1,1180.1 1724.0,1180.2 1729.0,1180.4 1734.0,1180.6 1739.0,1180.8 1744.0,1180.9 1748.9,1181.1 1753.9,1181.2 1758.9,1181.4 1763.9,1181.5 1768.9,1181.7 1773.8,1181.8 1778.8,1182.0 1783.8,1182.1 1788.8,1182.3 1793.8,1182.4 1798.7,1182.5 1803.7,1182.7 1808.7,1182.8 1813.7,1182.9 1818.7,1183.0 1823.6,1183.2 1828.6,1183.3 1833.6,1183.4 1838.6,1183.5 1843.6,1183.6 1848.5,1183.7 1853.5,1183.9 1858.5,1184.0 1863.5,1184.1 1868.5,1184.2 1873.4,1184.3 1878.4,1184.4 1883.4,1184.5 1888.4,1184.6 1893.4,1184.7 1898.3,1184.8 1903.3,1184.9 1908.3,1184.9 1913.3,1185.0 1918.3,1185.1 1923.2,1185.2 1928.2,1185.3 1933.2,1185.4 1938.2,1185.5 1943.2,1185.5 1948.1,1185.6 1953.1,1185.7 1958.1,1185.8 1963.1,1185.8 1968.1,1185.9 1973.0,1186.0 1978.0,1186.1 1983.0,1186.1 1988.0,1186.2 1993.0,1186.3 1997.9,1186.3 2002.9,1186.4 2007.9,1186.5 2012.9,1186.5 2017.9,1186.6 2022.8,1186.6" fill="none" stroke="#dc2f3a" stroke-width="9.5" stroke-linejoin="round" stroke-linecap="round"/>
<ellipse cx="1529" cy="1147" rx="4.5" ry="9" fill="#c8283a"/>
<path d="M1526.5 1258.5 V947.3 H2024.5" fill="none" stroke="#2a2a2a" stroke-width="2.6"/>
<path d="M1526.5 1258.5 H2024.5" fill="none" stroke="#2a2a2a" stroke-width="2.6"/>
<path d="M2024.5 947.3 V1258.5" fill="none" stroke="#5f9a84" stroke-width="2.4"/>
<line x1="1519.5" y1="1258.5" x2="1526.5" y2="1258.5" stroke="#2a2a2a" stroke-width="2.6"/>
<text x="1503.79" y="1264.80" textLength="14.15" lengthAdjust="spacingAndGlyphs" fill="#231f20"><tspan font-size="26.5">0</tspan></text>
<line x1="1519.5" y1="1206.6" x2="1526.5" y2="1206.6" stroke="#2a2a2a" stroke-width="2.6"/>
<text x="1489.65" y="1212.93" textLength="28.30" lengthAdjust="spacingAndGlyphs" fill="#231f20"><tspan font-size="26.5">50</tspan></text>
<line x1="1519.5" y1="1154.8" x2="1526.5" y2="1154.8" stroke="#2a2a2a" stroke-width="2.6"/>
<text x="1475.50" y="1161.07" textLength="42.45" lengthAdjust="spacingAndGlyphs" fill="#231f20"><tspan font-size="26.5">100</tspan></text>
<line x1="1519.5" y1="1102.9" x2="1526.5" y2="1102.9" stroke="#2a2a2a" stroke-width="2.6"/>
<text x="1475.50" y="1109.20" textLength="42.45" lengthAdjust="spacingAndGlyphs" fill="#231f20"><tspan font-size="26.5">150</tspan></text>
<line x1="1519.5" y1="1051.0" x2="1526.5" y2="1051.0" stroke="#2a2a2a" stroke-width="2.6"/>
<text x="1475.50" y="1057.33" textLength="42.45" lengthAdjust="spacingAndGlyphs" fill="#231f20"><tspan font-size="26.5">200</tspan></text>
<line x1="1519.5" y1="999.2" x2="1526.5" y2="999.2" stroke="#2a2a2a" stroke-width="2.6"/>
<text x="1475.50" y="1005.47" textLength="42.45" lengthAdjust="spacingAndGlyphs" fill="#231f20"><tspan font-size="26.5">250</tspan></text>
<line x1="1519.5" y1="947.3" x2="1526.5" y2="947.3" stroke="#2a2a2a" stroke-width="2.6"/>
<text x="1475.50" y="953.60" textLength="42.45" lengthAdjust="spacingAndGlyphs" fill="#231f20"><tspan font-size="26.5">300</tspan></text>
<line x1="2024.5" y1="1258.5" x2="2030.5" y2="1258.5" stroke="#5f9a84" stroke-width="2.4"/>
<text x="2031.93" y="1265.90" textLength="13.61" lengthAdjust="spacingAndGlyphs" fill="#2f9a6e"><tspan font-size="25.5">0</tspan></text>
<line x1="2024.5" y1="1201.8" x2="2030.5" y2="1201.8" stroke="#5f9a84" stroke-width="2.4"/>
<text x="2032.05" y="1209.16" textLength="27.23" lengthAdjust="spacingAndGlyphs" fill="#2f9a6e"><tspan font-size="25.5">20</tspan></text>
<line x1="2024.5" y1="1145.0" x2="2030.5" y2="1145.0" stroke="#5f9a84" stroke-width="2.4"/>
<text x="2032.53" y="1152.42" textLength="27.23" lengthAdjust="spacingAndGlyphs" fill="#2f9a6e"><tspan font-size="25.5">40</tspan></text>
<line x1="2024.5" y1="1088.3" x2="2030.5" y2="1088.3" stroke="#5f9a84" stroke-width="2.4"/>
<text x="2032.00" y="1095.68" textLength="27.23" lengthAdjust="spacingAndGlyphs" fill="#2f9a6e"><tspan font-size="25.5">60</tspan></text>
<line x1="2024.5" y1="1031.5" x2="2030.5" y2="1031.5" stroke="#5f9a84" stroke-width="2.4"/>
<text x="2032.12" y="1038.94" textLength="27.23" lengthAdjust="spacingAndGlyphs" fill="#2f9a6e"><tspan font-size="25.5">80</tspan></text>
<line x1="2024.5" y1="974.8" x2="2030.5" y2="974.8" stroke="#5f9a84" stroke-width="2.4"/>
<text x="2031.36" y="982.20" textLength="40.84" lengthAdjust="spacingAndGlyphs" fill="#2f9a6e"><tspan font-size="25.5">100</tspan></text>
<line x1="1526.5" y1="1258.5" x2="1526.5" y2="1264.5" stroke="#2a2a2a" stroke-width="2.6"/>
<text x="1517.55" y="1291.60" textLength="16.55" lengthAdjust="spacingAndGlyphs" fill="#231f20"><tspan font-size="30.8">0</tspan></text>
<line x1="1609.5" y1="1258.5" x2="1609.5" y2="1264.5" stroke="#2a2a2a" stroke-width="2.6"/>
<text x="1592.41" y="1291.60" textLength="33.09" lengthAdjust="spacingAndGlyphs" fill="#231f20"><tspan font-size="30.8">50</tspan></text>
<line x1="1692.5" y1="1258.5" x2="1692.5" y2="1264.5" stroke="#2a2a2a" stroke-width="2.6"/>
<text x="1666.65" y="1291.60" textLength="49.64" lengthAdjust="spacingAndGlyphs" fill="#231f20"><tspan font-size="30.8">100</tspan></text>
<line x1="1775.5" y1="1258.5" x2="1775.5" y2="1264.5" stroke="#2a2a2a" stroke-width="2.6"/>
<text x="1749.65" y="1291.60" textLength="49.64" lengthAdjust="spacingAndGlyphs" fill="#231f20"><tspan font-size="30.8">150</tspan></text>
<line x1="1858.5" y1="1258.5" x2="1858.5" y2="1264.5" stroke="#2a2a2a" stroke-width="2.6"/>
<text x="1833.07" y="1291.60" textLength="49.64" lengthAdjust="spacingAndGlyphs" fill="#231f20"><tspan font-size="30.8">200</tspan></text>
<line x1="1941.5" y1="1258.5" x2="1941.5" y2="1264.5" stroke="#2a2a2a" stroke-width="2.6"/>
<text x="1916.07" y="1291.60" textLength="49.64" lengthAdjust="spacingAndGlyphs" fill="#231f20"><tspan font-size="30.8">250</tspan></text>
<line x1="2024.5" y1="1258.5" x2="2024.5" y2="1264.5" stroke="#2a2a2a" stroke-width="2.6"/>
<text x="1999.25" y="1291.60" textLength="49.64" lengthAdjust="spacingAndGlyphs" fill="#231f20"><tspan font-size="30.8">300</tspan></text>
<text x="1685.77" y="1330.90" textLength="197.68" lengthAdjust="spacingAndGlyphs" fill="#231f20"><tspan font-size="31">Cycle number</tspan></text>
<text x="1743.95" y="1241.10" textLength="45.76" lengthAdjust="spacingAndGlyphs" fill="#231f20"><tspan font-size="31.3">1 C</tspan></text>
<circle cx="1917.7" cy="1234.8" r="4" fill="#c02838"/>
<text x="1927.66" y="1240.70" textLength="93.94" lengthAdjust="spacingAndGlyphs" fill="#dc2f3a"><tspan font-size="22">20 DMSO</tspan></text>
<text x="-0.74" y="0.00" textLength="330.31" lengthAdjust="spacingAndGlyphs" fill="#231f20" transform="translate(1465.2,1268.3) rotate(-90)"><tspan font-size="27.3">Specific capacity/(mAh·g</tspan><tspan font-size="16.38" dy="-9.83">−1</tspan><tspan font-size="27.3" dy="9.83">)</tspan></text>
<text x="-1.06" y="0.00" textLength="290.04" lengthAdjust="spacingAndGlyphs" fill="#2f9a6e" transform="translate(2092.2,1258.6) rotate(-90)"><tspan font-size="22.9">Coulombic efficiency/%</tspan></text>
</g>
<text x="30.48" y="27.60" textLength="47.14" lengthAdjust="spacingAndGlyphs" fill="#231f20"><tspan font-size="39">(a)</tspan></text>
<text x="609.88" y="27.80" textLength="47.03" lengthAdjust="spacingAndGlyphs" fill="#231f20"><tspan font-size="39">(c)</tspan></text>
<text x="29.05" y="530.50" textLength="49.89" lengthAdjust="spacingAndGlyphs" fill="#231f20"><tspan font-size="39">(b)</tspan></text>
<text x="1088.07" y="530.60" textLength="49.46" lengthAdjust="spacingAndGlyphs" fill="#231f20"><tspan font-size="39">(d)</tspan></text>
<text x="-2.97" y="919.80" textLength="48.34" lengthAdjust="spacingAndGlyphs" fill="#231f20"><tspan font-size="39">(e)</tspan></text>
<text x="1432.01" y="919.90" textLength="39.99" lengthAdjust="spacingAndGlyphs" fill="#231f20"><tspan font-size="39">(f)</tspan></text>
</svg>
</body></html>
